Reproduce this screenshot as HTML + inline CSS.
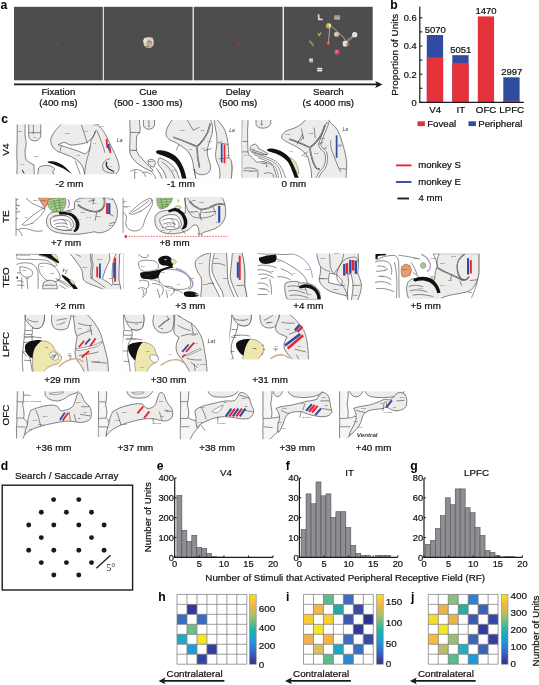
<!DOCTYPE html>
<html><head><meta charset="utf-8"><style>
html,body{margin:0;padding:0;background:#fff;}
svg{display:block;filter:blur(0.3px);}
</style></head><body>
<svg width="539" height="685" viewBox="0 0 539 685" font-family="'Liberation Sans', Arial, sans-serif">
<text x="0.6" y="8.9" font-size="12.2" font-weight="bold" fill="#000">a</text>
<rect x="14" y="6.8" width="88.8" height="73.5" fill="#4e4d4d"/>
<rect x="103.8" y="6.8" width="88.8" height="73.5" fill="#4e4d4d"/>
<rect x="193.8" y="6.8" width="88.8" height="73.5" fill="#4e4d4d"/>
<rect x="283.9" y="6.8" width="88.8" height="73.5" fill="#4e4d4d"/>
<circle cx="57.6" cy="43.4" r="1.0" fill="#e0242c"/>
<circle cx="238.2" cy="43.4" r="1.0" fill="#e0242c"/>
<path d="M143,41 L144.6,38 L148.5,36.9 L152.6,37.8 L153.9,41.5 L153.2,45.6 L150.5,47.9 L146.2,47.6 L144,45.2 Z" fill="#d6d0be"/>
<ellipse cx="149.4" cy="43.6" rx="2.6" ry="3.6" fill="#bfa198"/>
<ellipse cx="149.6" cy="44.8" rx="1.3" ry="1.5" fill="#d9a6a6"/>
<circle cx="148.2" cy="41.7" r="0.55" fill="#5a4038"/><circle cx="150.7" cy="41.7" r="0.55" fill="#5a4038"/>
<ellipse cx="147.6" cy="46.6" rx="2.2" ry="1.1" fill="#8d866e" opacity="0.8"/>
<ellipse cx="145.2" cy="40.5" rx="1.6" ry="2.4" fill="#e6e2d4"/>
<path d="M317.6,14.2 L319.4,14.2 L319.6,18.4 L322.9,18.8 L322.6,20.3 L318,20.2 Z" fill="#e2d4dc"/>
<rect x="334.1" y="15.8" width="6" height="3.9" rx="0.6" fill="#bda27a"/><rect x="334.6" y="15.1" width="5" height="1.6" fill="#7f9bb8"/>
<circle cx="328.6" cy="25.8" r="2.7" fill="#c8aa55"/><circle cx="329.6" cy="25" r="1.2" fill="#efe6c8"/>
<path d="M317.2,33 L319.3,36.5 L321.8,32.4 L320.6,32.4 L319.3,34.6 L318.4,33 Z" fill="#e0bd2c"/>
<ellipse cx="336.6" cy="34.4" rx="2.6" ry="2.4" fill="#d7b79f"/><ellipse cx="336" cy="33.6" rx="1.2" ry="0.9" fill="#f0e0d0"/>
<circle cx="354.7" cy="34.7" r="2.6" fill="#e9e9e9"/><circle cx="354.7" cy="34.7" r="0.7" fill="#e09a3a"/>
<path d="M308.6,41.2 L310.2,40.1 L314.2,44.8 L312.8,46.2 Z" fill="#7d9450"/><circle cx="313.2" cy="45.5" r="0.9" fill="#a0805a"/>
<rect x="342.8" y="40.8" width="4.8" height="5.8" rx="1.5" fill="#e8dfd6"/><rect x="346.4" y="42.5" width="2.4" height="3.4" rx="0.8" fill="#b08070"/>
<circle cx="337" cy="52" r="2.6" fill="#e04584"/><circle cx="336.3" cy="51.3" r="0.9" fill="#f4a0c0"/>
<rect x="309.2" y="58.7" width="3.8" height="3.6" fill="#c4c0ba"/><rect x="309.2" y="58.7" width="3.8" height="1.2" fill="#e0ddd8"/>
<rect x="317.2" y="67.8" width="5" height="3.8" rx="0.5" fill="#e9e2d6"/><rect x="317.2" y="69.2" width="5" height="0.7" fill="#a09080"/>
<polyline points="328.5,42.7 329.3,33 330,25.3" fill="none" stroke="#f2f2f2" stroke-width="0.55"/>
<polyline points="330.5,25.3 343.8,37.6 345.3,40.6" fill="none" stroke="#f2f2f2" stroke-width="0.55"/>
<polyline points="345.8,41.6 354,34.5" fill="none" stroke="#f2f2f2" stroke-width="0.5"/>
<polyline points="346.8,42.6 354.8,35.5" fill="none" stroke="#f2f2f2" stroke-width="0.5"/>
<rect x="326.9" y="42.1" width="3" height="3.1" fill="#e0282e"/><rect x="327.6" y="42.4" width="1" height="1.4" fill="#f4f4f4"/>
<line x1="14" y1="84.4" x2="377" y2="84.4" stroke="#1a1a1a" stroke-width="1.6"/>
<path d="M375.2,80.9 L382.5,84.4 L375.2,87.9 L376.8,84.4 Z" fill="#1a1a1a"/>
<text x="58.4" y="95.3" font-size="9.7" text-anchor="middle" stroke="#111" stroke-width="0.22" fill="#111">Fixation</text>
<text x="58.4" y="106.4" font-size="9.7" text-anchor="middle" stroke="#111" stroke-width="0.22" fill="#111">(400 ms)</text>
<text x="148.2" y="95.3" font-size="9.7" text-anchor="middle" stroke="#111" stroke-width="0.22" fill="#111">Cue</text>
<text x="148.2" y="106.4" font-size="9.7" text-anchor="middle" stroke="#111" stroke-width="0.22" fill="#111">(500 - 1300 ms)</text>
<text x="238.2" y="95.3" font-size="9.7" text-anchor="middle" stroke="#111" stroke-width="0.22" fill="#111">Delay</text>
<text x="238.2" y="106.4" font-size="9.7" text-anchor="middle" stroke="#111" stroke-width="0.22" fill="#111">(500 ms)</text>
<text x="328.3" y="95.3" font-size="9.7" text-anchor="middle" stroke="#111" stroke-width="0.22" fill="#111">Search</text>
<text x="328.3" y="106.4" font-size="9.7" text-anchor="middle" stroke="#111" stroke-width="0.22" fill="#111">(&#8804; 4000 ms)</text>
<text x="390.2" y="8.9" font-size="12.2" font-weight="bold" fill="#000">b</text>
<rect x="426.8" y="35.0" width="16.3" height="67.4" fill="#2f4ca0"/>
<rect x="426.8" y="57.3" width="16.3" height="45.1" fill="#e5323a"/>
<rect x="452.3" y="55.2" width="16.3" height="47.2" fill="#2f4ca0"/>
<rect x="452.3" y="62.9" width="16.3" height="39.5" fill="#e5323a"/>
<rect x="477.8" y="16.4" width="16.3" height="86.0" fill="#e5323a"/>
<rect x="503.3" y="77.3" width="16.3" height="25.1" fill="#2f4ca0"/>
<rect x="503.3" y="100.7" width="16.3" height="1.7" fill="#e5323a"/>
<line x1="419.8" y1="6.6" x2="419.8" y2="103.0" stroke="#1a1a1a" stroke-width="1.2"/>
<line x1="419.2" y1="102.4" x2="523.8" y2="102.4" stroke="#1a1a1a" stroke-width="1.2"/>
<line x1="419.8" y1="102.4" x2="422.40000000000003" y2="102.4" stroke="#1a1a1a" stroke-width="1.1"/>
<line x1="419.8" y1="88.3" x2="422.40000000000003" y2="88.3" stroke="#1a1a1a" stroke-width="1.1"/>
<line x1="419.8" y1="74.2" x2="422.40000000000003" y2="74.2" stroke="#1a1a1a" stroke-width="1.1"/>
<line x1="419.8" y1="60.1" x2="422.40000000000003" y2="60.1" stroke="#1a1a1a" stroke-width="1.1"/>
<line x1="419.8" y1="46.0" x2="422.40000000000003" y2="46.0" stroke="#1a1a1a" stroke-width="1.1"/>
<line x1="419.8" y1="31.9" x2="422.40000000000003" y2="31.9" stroke="#1a1a1a" stroke-width="1.1"/>
<line x1="419.8" y1="17.8" x2="422.40000000000003" y2="17.8" stroke="#1a1a1a" stroke-width="1.1"/>
<text x="416.6" y="105.7" font-size="9.3" text-anchor="end" stroke="#111" stroke-width="0.22" fill="#111">0</text>
<text x="416.6" y="77.5" font-size="9.3" text-anchor="end" stroke="#111" stroke-width="0.22" fill="#111">0.2</text>
<text x="416.6" y="49.3" font-size="9.3" text-anchor="end" stroke="#111" stroke-width="0.22" fill="#111">0.4</text>
<text x="416.6" y="21.1" font-size="9.3" text-anchor="end" stroke="#111" stroke-width="0.22" fill="#111">0.6</text>
<text transform="translate(398.4,54.8) rotate(-90)" font-size="9.9" text-anchor="middle" fill="#111" stroke="#111" stroke-width="0.22">Proportion of Units</text>
<text x="435.3" y="33.2" font-size="9.5" text-anchor="middle" stroke="#111" stroke-width="0.22" fill="#111">5070</text>
<text x="460.8" y="53.3" font-size="9.5" text-anchor="middle" stroke="#111" stroke-width="0.22" fill="#111">5051</text>
<text x="486.1" y="14.4" font-size="9.5" text-anchor="middle" stroke="#111" stroke-width="0.22" fill="#111">1470</text>
<text x="511.7" y="74.9" font-size="9.5" text-anchor="middle" stroke="#111" stroke-width="0.22" fill="#111">2997</text>
<text x="435.3" y="112.9" font-size="9.7" text-anchor="middle" stroke="#111" stroke-width="0.22" fill="#111">V4</text>
<text x="460.8" y="112.9" font-size="9.7" text-anchor="middle" stroke="#111" stroke-width="0.22" fill="#111">IT</text>
<text x="486.1" y="112.9" font-size="9.7" text-anchor="middle" stroke="#111" stroke-width="0.22" fill="#111">OFC</text>
<text x="511.7" y="112.9" font-size="9.7" text-anchor="middle" stroke="#111" stroke-width="0.22" fill="#111">LPFC</text>
<rect x="417.5" y="121.3" width="7.4" height="4.8" fill="#e5323a"/>
<text x="427.2" y="127.3" font-size="9.7" stroke="#111" stroke-width="0.22" fill="#111">Foveal</text>
<rect x="468.5" y="121.3" width="7.4" height="4.8" fill="#2f4ca0"/>
<text x="478.2" y="127.3" font-size="9.7" stroke="#111" stroke-width="0.22" fill="#111">Peripheral</text>
<text x="1.2" y="123.3" font-size="12.2" font-weight="bold" fill="#000">c</text>
<text transform="translate(8.9,149.6) rotate(-90)" font-size="9.9" text-anchor="middle" fill="#111" stroke="#111" stroke-width="0.22">V4</text>
<text transform="translate(8.9,216.8) rotate(-90)" font-size="9.9" text-anchor="middle" fill="#111" stroke="#111" stroke-width="0.22">TE</text>
<text transform="translate(8.9,277.4) rotate(-90)" font-size="9.9" text-anchor="middle" fill="#111" stroke="#111" stroke-width="0.22">TEO</text>
<text transform="translate(8.9,344.4) rotate(-90)" font-size="9.9" text-anchor="middle" fill="#111" stroke="#111" stroke-width="0.22">LPFC</text>
<text transform="translate(8.9,415.0) rotate(-90)" font-size="9.9" text-anchor="middle" fill="#111" stroke="#111" stroke-width="0.22">OFC</text>
<text x="69.5" y="187.0" font-size="9.8" text-anchor="middle" stroke="#111" stroke-width="0.22" fill="#111">-2 mm</text>
<text x="181.0" y="187.0" font-size="9.8" text-anchor="middle" stroke="#111" stroke-width="0.22" fill="#111">-1 mm</text>
<text x="293.8" y="187.0" font-size="9.8" text-anchor="middle" stroke="#111" stroke-width="0.22" fill="#111">0 mm</text>
<text x="66.0" y="245.5" font-size="9.8" text-anchor="middle" stroke="#111" stroke-width="0.22" fill="#111">+7 mm</text>
<text x="174.5" y="245.5" font-size="9.8" text-anchor="middle" stroke="#111" stroke-width="0.22" fill="#111">+8 mm</text>
<text x="69.8" y="308.8" font-size="9.8" text-anchor="middle" stroke="#111" stroke-width="0.22" fill="#111">+2 mm</text>
<text x="190.4" y="308.8" font-size="9.8" text-anchor="middle" stroke="#111" stroke-width="0.22" fill="#111">+3 mm</text>
<text x="308.3" y="308.5" font-size="9.8" text-anchor="middle" stroke="#111" stroke-width="0.22" fill="#111">+4 mm</text>
<text x="425.7" y="308.5" font-size="9.8" text-anchor="middle" stroke="#111" stroke-width="0.22" fill="#111">+5 mm</text>
<text x="62.0" y="382.9" font-size="9.8" text-anchor="middle" stroke="#111" stroke-width="0.22" fill="#111">+29 mm</text>
<text x="168.6" y="382.9" font-size="9.8" text-anchor="middle" stroke="#111" stroke-width="0.22" fill="#111">+30 mm</text>
<text x="270.0" y="382.9" font-size="9.8" text-anchor="middle" stroke="#111" stroke-width="0.22" fill="#111">+31 mm</text>
<text x="53.7" y="451.1" font-size="9.8" text-anchor="middle" stroke="#111" stroke-width="0.22" fill="#111">+36 mm</text>
<text x="135.4" y="451.1" font-size="9.8" text-anchor="middle" stroke="#111" stroke-width="0.22" fill="#111">+37 mm</text>
<text x="217.0" y="451.1" font-size="9.8" text-anchor="middle" stroke="#111" stroke-width="0.22" fill="#111">+38 mm</text>
<text x="297.3" y="451.1" font-size="9.8" text-anchor="middle" stroke="#111" stroke-width="0.22" fill="#111">+39 mm</text>
<text x="373.5" y="451.1" font-size="9.8" text-anchor="middle" stroke="#111" stroke-width="0.22" fill="#111">+40 mm</text>
<line x1="395.9" y1="165.4" x2="411.5" y2="165.4" stroke="#e8252e" stroke-width="1.9"/>
<line x1="395.9" y1="182" x2="411.5" y2="182" stroke="#2f4aa6" stroke-width="1.9"/>
<line x1="397.4" y1="198.5" x2="409" y2="198.5" stroke="#1e1e1e" stroke-width="1.9"/>
<text x="418.2" y="168.0" font-size="9.6" stroke="#111" stroke-width="0.22" fill="#111">monkey S</text>
<text x="418.2" y="184.5" font-size="9.6" stroke="#111" stroke-width="0.22" fill="#111">monkey E</text>
<text x="418.6" y="201.0" font-size="9.6" stroke="#111" stroke-width="0.22" fill="#111">4 mm</text>
<g transform="translate(14,118) scale(0.20408)" stroke-linejoin="round"><clipPath id="sc1"><rect x="10" y="32" width="520" height="244"/></clipPath><g clip-path="url(#sc1)"><path d="M15,20 L390,20 C420,40 440,60 455,95 C470,125 490,165 505,200 C517,230 520,255 505,268 L490,290 L15,290 C12,250 18,230 14,200 C12,150 18,100 15,20 Z" fill="#edeceb" stroke="#333333" stroke-width="0.6" vector-effect="non-scaling-stroke"/><path d="M54,20 L240,20 C215,50 185,75 180,105 C178,130 195,160 230,170 C265,182 300,195 322,218 C340,238 345,260 347,290 L200,290 L190,262 L200,250 C190,238 175,232 160,232 C140,232 125,238 120,245 L115,290 L100,290 L98,230 C85,224 70,215 60,205 C52,190 56,170 54,157 C60,140 62,120 56,100 C52,80 56,50 54,20 Z" fill="#fff" stroke="#333333" stroke-width="0.6" vector-effect="non-scaling-stroke"/><path d="M72,20 L131,20 L131,85 C131,100 118,112 100,112 C82,112 72,100 72,85 Z" fill="#edeceb" stroke="#333333" stroke-width="0.6" vector-effect="non-scaling-stroke"/><path d="M95,32 L95,80 M72,72 L131,72" fill="none" stroke="#333333" stroke-width="0.55" vector-effect="non-scaling-stroke"/><path d="M216,131 C230,124 240,119 250,120 C265,128 278,134 287,133 C300,131 315,129 323,128 C335,126 345,124 355,120 C368,112 378,104 382,99 C390,88 396,75 400,63 C395,78 390,88 387,95 C380,102 378,106 378,108 C376,120 375,132 373,140 C370,150 367,158 364,163 C358,170 352,174 346,176 C330,168 310,160 287,153 C265,146 245,140 232,135 C225,133 220,132 216,131 Z" fill="#fff" stroke="#333333" stroke-width="0.6" vector-effect="non-scaling-stroke"/><path d="M330,33 L360,125 M232,135 L225,165 M373,140 C372,170 350,200 345,290 M405,58 C420,95 440,140 445,170 M470,200 C440,205 425,230 440,258 C455,270 480,272 495,268 M390,35 L420,30 M300,210 L330,290" fill="none" stroke="#333333" stroke-width="0.55" vector-effect="non-scaling-stroke"/><path d="M455,215 C445,235 460,255 490,262" fill="none" stroke="#222" stroke-width="1.2" vector-effect="non-scaling-stroke"/><path d="M168,213 C190,208 215,215 238,230 C255,242 270,258 283,274 C270,266 255,256 242,248 C220,236 195,226 172,220 C164,218 163,214 168,213 Z" fill="#111" stroke="none"/><path d="M40,255 L50,272" fill="none" stroke="#222" stroke-width="1.0" vector-effect="non-scaling-stroke"/></g></g><line x1="106.6" y1="139" x2="107.3" y2="148" stroke="#e8252e" stroke-width="1.8"/><line x1="108.6" y1="144" x2="109.3" y2="150.5" stroke="#2f4aa6" stroke-width="1.8"/><line x1="109.8" y1="147" x2="110.4" y2="153.2" stroke="#e8252e" stroke-width="1.8"/><text x="117" y="141.8" font-size="5" font-style="italic" fill="#333">La</text>
<g transform="translate(126,118) scale(0.20408)" stroke-linejoin="round"><clipPath id="sc2"><rect x="14" y="10" width="516" height="287"/></clipPath><g clip-path="url(#sc2)"><path d="M15,-5 L520,-5 L520,310 L15,310 C12,250 18,200 14,150 C12,100 18,50 15,-5 Z" fill="#edeceb" stroke="#333333" stroke-width="0.6" vector-effect="non-scaling-stroke"/><path d="M60,-5 L235,-5 C215,25 200,45 196,70 C195,90 205,105 225,112 C255,125 285,145 305,165 C322,185 328,215 332,245 C335,270 345,300 345,310 L180,310 C175,280 160,255 140,240 C130,232 128,225 130,212 C120,222 108,222 100,205 C92,180 80,150 74,110 C68,80 70,40 60,-5 Z" fill="#fff" stroke="#333333" stroke-width="0.6" vector-effect="non-scaling-stroke"/><path d="M405,-5 C425,20 428,50 420,85 C410,115 398,140 398,170 C400,200 415,220 415,245 C412,268 395,278 370,278 C350,278 338,268 334,250 L345,310 L455,310 C462,290 462,260 455,235 C442,215 436,190 440,165 C445,135 450,100 440,60 C436,40 433,20 430,-5 Z" fill="#fff" stroke="#333333" stroke-width="0.6" vector-effect="non-scaling-stroke"/><path d="M430,-5 C455,15 475,35 488,70 C498,100 503,140 503,170 C503,185 500,190 505,195 C518,205 522,230 520,260 L515,310 L560,310 L560,-5 Z" fill="#fff" stroke="#333333" stroke-width="0.6" vector-effect="non-scaling-stroke"/><path d="M85,-5 L140,-5 L140,30 C140,48 125,55 112,55 C95,55 85,45 85,30 Z" fill="#edeceb" stroke="#333333" stroke-width="0.6" vector-effect="non-scaling-stroke"/><path d="M165,195 C195,205 225,225 245,255 C255,275 258,290 262,310 L200,310 C195,280 185,255 168,240 C155,228 150,210 165,195 Z" fill="#edeceb" stroke="#333333" stroke-width="0.6" vector-effect="non-scaling-stroke"/><path d="M15,75 L68,75 M15,150 L74,150 M112,10 L112,40 M175,215 C200,230 225,255 240,300 M20,225 C60,215 90,225 110,240 M20,260 L140,262 M70,240 L80,300 M300,10 L330,60 L360,45 M260,130 L245,160 M380,160 L420,150 M450,120 L500,130 M455,200 L505,195" fill="none" stroke="#333333" stroke-width="0.55" vector-effect="non-scaling-stroke"/><path d="M235,95 C265,105 300,120 348,140 M348,140 C365,125 385,105 400,70 C405,55 410,40 412,30 M348,140 C348,170 352,210 360,240" fill="none" stroke="#333" stroke-width="1.5" stroke-linecap="round" vector-effect="non-scaling-stroke"/><path d="M235,95 C265,105 300,120 348,140 M348,140 C365,125 385,105 400,70 C405,55 410,40 412,30 M348,140 C348,170 352,210 360,240" fill="none" stroke="#fff" stroke-width="0.5" stroke-linecap="round" vector-effect="non-scaling-stroke"/><path d="M150,160 C170,155 200,160 230,178 C265,200 285,240 297,300 L275,300 C268,260 255,230 235,212 C210,195 185,185 160,178 C148,175 144,165 150,160 Z" fill="#111" stroke="none"/></g></g><g transform="translate(128,118) scale(0.11132)" stroke-linejoin="round"><clipPath id="sc3"><rect x="0" y="18" width="540" height="530"/></clipPath><g clip-path="url(#sc3)"><path d="M0,-20 L101,-20 L126,200 L172,372 L224,386 L244,438 L305,570 L0,570 Z" fill="#fff"/><path d="M15,-10 L100,-10 C105,40 110,100 108,130 C95,140 82,150 78,170 C75,210 74,250 76,280 C80,310 95,335 120,360 C145,385 165,410 185,430 C200,445 215,455 225,470 L210,480 C190,470 170,460 150,450 C110,430 70,400 40,360 C22,335 14,310 15,290 C16,240 18,180 20,130 C18,90 16,40 15,-10 Z" fill="#edeceb" stroke="#333333" stroke-width="0.6" vector-effect="non-scaling-stroke"/><path d="M18,130 L108,130 M18,290 L78,290 M20,480 C45,462 80,458 110,470 C135,480 150,500 160,530 M60,470 L60,570 M130,490 C160,480 190,490 210,510 M210,480 C230,500 250,530 255,570" fill="none" stroke="#333333" stroke-width="0.55" vector-effect="non-scaling-stroke"/><path d="M180,382 C195,368 222,368 240,385 C248,400 246,420 232,440 C215,442 198,430 188,415 C180,405 176,392 180,382 Z" fill="#edeceb" stroke="#333333" stroke-width="0.6" vector-effect="non-scaling-stroke"/></g></g><line x1="221.7" y1="143.5" x2="221.7" y2="162.5" stroke="#2f4aa6" stroke-width="1.7"/><line x1="224.5" y1="144.5" x2="224.5" y2="163.3" stroke="#e8252e" stroke-width="1.7"/><text x="229.3" y="132.3" font-size="5" font-style="italic" fill="#333">La</text>
<g transform="translate(238,118) scale(0.21151)" stroke-linejoin="round"><clipPath id="sc4"><rect x="17" y="10" width="513" height="273"/></clipPath><g clip-path="url(#sc4)"><path d="M18,-5 L520,-5 L520,300 L18,300 C16,250 20,200 17,150 C15,100 20,50 18,-5 Z" fill="#edeceb" stroke="#333333" stroke-width="0.6" vector-effect="non-scaling-stroke"/><path d="M45,-5 L330,-5 C305,30 280,45 245,55 C215,65 205,80 207,95 C212,105 235,115 265,130 C295,145 315,160 330,185 C336,205 340,225 345,240 L350,300 L185,300 L183,283 C178,260 172,240 167,230 C160,220 150,216 146,215 C135,210 125,206 115,206 C105,207 95,210 88,209 C75,195 60,180 49,170 C45,150 46,90 45,60 C46,40 50,20 45,-5 Z" fill="#fff" stroke="#333333" stroke-width="0.6" vector-effect="non-scaling-stroke"/><path d="M85,-5 L155,-5 L155,25 C150,42 135,48 118,48 C100,48 85,40 85,25 Z" fill="#edeceb" stroke="#333333" stroke-width="0.6" vector-effect="non-scaling-stroke"/><path d="M112,10 L112,35 M300,50 L310,100 M360,45 L365,95 M330,160 L300,180 M390,150 L420,140 M20,110 L45,112 M20,160 L48,160" fill="none" stroke="#333333" stroke-width="0.55" vector-effect="non-scaling-stroke"/><path d="M245,100 C275,108 310,125 340,140 M340,140 C360,125 380,105 395,75 C402,60 407,45 410,35 M340,140 C343,170 350,200 365,230 C370,238 378,242 385,240" fill="none" stroke="#333" stroke-width="1.5" stroke-linecap="round" vector-effect="non-scaling-stroke"/><path d="M245,100 C275,108 310,125 340,140 M340,140 C360,125 380,105 395,75 C402,60 407,45 410,35 M340,140 C343,170 350,200 365,230 C370,238 378,242 385,240" fill="none" stroke="#fff" stroke-width="0.5" stroke-linecap="round" vector-effect="non-scaling-stroke"/></g></g><g transform="translate(240,130) scale(0.11132)" stroke-linejoin="round"><clipPath id="sc5"><rect x="0" y="0" width="540" height="430"/></clipPath><g clip-path="url(#sc5)"><path d="M90,165 C95,140 115,125 140,128 C155,135 160,150 165,165 C200,185 235,200 252,215 C235,228 200,225 170,212 C140,202 105,196 92,185 Z" fill="#edeceb" stroke="#333333" stroke-width="0.6" vector-effect="non-scaling-stroke"/><path d="M100,200 C170,225 260,240 320,280 C360,310 390,360 410,440 M125,222 C190,245 265,262 318,300 C350,330 368,380 378,440 M160,250 C220,268 280,290 312,325 C335,355 345,400 348,440 M110,180 C150,190 200,205 240,225" fill="none" stroke="#333333" stroke-width="0.55" vector-effect="non-scaling-stroke"/><path d="M35,345 C70,335 130,340 158,360 C165,390 160,420 155,440 M30,365 L150,370 M215,392 C240,378 280,382 298,402 L305,440 M190,300 L235,300 L240,330" fill="none" stroke="#333333" stroke-width="0.55" vector-effect="non-scaling-stroke"/><path d="M440,250 C462,250 490,270 505,300 C520,335 530,370 528,395 C515,390 500,365 488,335 C475,305 460,280 440,250 Z" fill="#efe8ae" stroke="#333333" stroke-width="0.4" vector-effect="non-scaling-stroke"/><path d="M245,175 C260,165 290,163 330,175 C380,192 420,215 445,250 C470,290 500,360 532,440 L495,440 C470,370 450,310 425,280 C400,250 360,225 320,210 C290,200 260,195 250,188 C242,183 240,178 245,175 Z" fill="#111" stroke="none"/></g></g><g transform="translate(290,118) scale(0.11502)" stroke-linejoin="round"><clipPath id="sc6"><rect x="0" y="16" width="539" height="504"/></clipPath><g clip-path="url(#sc6)"><path d="M320,-20 C345,40 360,50 380,65 C410,90 432,140 450,200 C465,250 485,310 492,380 C495,430 490,480 482,560 L620,560 L620,-20 Z" fill="#fff" stroke="#333333" stroke-width="0.6" vector-effect="non-scaling-stroke"/><path d="M318,40 C300,100 270,160 250,220 C245,250 270,275 300,300 C315,340 310,390 290,430 C270,455 240,470 215,560 L238,560 C255,485 285,460 305,440 C328,400 330,340 318,295 C290,268 265,248 268,222 C285,170 312,108 336,50 Z" fill="#fff" stroke="#333333" stroke-width="0.6" vector-effect="non-scaling-stroke"/><path d="M355,195 C350,230 355,265 370,300 C390,350 410,410 440,470 M415,245 L450,240 M430,440 L490,445 M330,40 L345,30 M245,230 L290,210 M60,230 L110,140 M90,200 L120,160" fill="none" stroke="#333333" stroke-width="0.55" vector-effect="non-scaling-stroke"/></g></g><line x1="336.6" y1="135.3" x2="336.6" y2="157.8" stroke="#2f4aa6" stroke-width="1.7"/><text x="342.5" y="130.5" font-size="5" font-style="italic" fill="#333">La</text>
<g transform="translate(14,192) scale(0.20408)" stroke-linejoin="round"><clipPath id="sc7"><rect x="5" y="28" width="295" height="188"/></clipPath><g clip-path="url(#sc7)"><path d="M10,28 L10,215 M10,40 L22,35 M10,60 L25,70 M10,80 L20,85 M10,100 L30,95 M10,130 L20,130 M10,180 C30,190 35,200 40,215" fill="none" stroke="#333333" stroke-width="0.55" vector-effect="non-scaling-stroke"/><path d="M118,28 L188,28 L150,78 Z" fill="#ec9b6e" stroke="#333333" stroke-width="0.4" vector-effect="non-scaling-stroke"/><path d="M60,28 C70,45 85,55 110,65 C125,72 138,78 150,82" fill="none" stroke="#333333" stroke-width="0.55" vector-effect="non-scaling-stroke"/><path d="M40,160 C60,140 90,115 130,88 C140,80 148,78 152,82 C145,102 125,125 100,145 C80,160 55,167 40,160 Z" fill="none" stroke="#333333" stroke-width="0.55" vector-effect="non-scaling-stroke"/><path d="M20,185 C40,175 60,178 80,185 C100,192 120,195 140,190" fill="none" stroke="#333333" stroke-width="0.55" vector-effect="non-scaling-stroke"/><path d="M166,40 C185,30 220,26 252,30 C258,48 255,70 242,88 C228,100 205,103 190,97 C177,88 168,75 165,60 Z" fill="#a9cf8c" stroke="#333333" stroke-width="0.4" vector-effect="non-scaling-stroke"/><path d="M175,50 C195,45 215,40 245,38 M172,62 C195,55 220,52 250,50 M178,75 C200,68 225,65 248,62 M188,88 C205,80 225,78 242,76 M195,40 C200,60 205,80 210,98 M220,32 C222,55 225,75 228,95" fill="none" stroke="#557e45" stroke-width="0.6" vector-effect="non-scaling-stroke"/><path d="M262,35 C274,45 276,64 262,80" fill="none" stroke="#b88dc8" stroke-width="1.3" vector-effect="non-scaling-stroke"/></g></g><g transform="translate(44,194) scale(0.14842)" stroke-linejoin="round"><clipPath id="sc8"><rect x="0" y="25" width="530" height="255"/></clipPath><g clip-path="url(#sc8)"><path d="M205,55 C215,35 240,27 285,26 L320,26 C322,35 328,42 335,35 L340,20 L452,20 C480,48 495,90 495,130 C493,175 475,210 445,235 C420,252 395,262 370,262 C355,262 345,252 330,256 C310,262 290,262 260,268 C220,275 150,272 100,262 C60,255 25,235 18,200 C14,170 20,145 45,128 C70,118 90,118 110,120 C140,118 170,112 205,100 Z" fill="#edeceb" stroke="#333333" stroke-width="0.6" vector-effect="non-scaling-stroke"/><path d="M300,50 L345,40 M330,70 L335,40 M355,120 L345,180 M430,130 L470,150 M440,200 L480,190 M60,150 C90,140 130,140 150,150 M70,180 C100,170 140,170 165,185 M60,205 C90,215 130,225 175,230 M80,230 C100,240 150,248 190,245 M120,160 C140,165 160,180 170,200" fill="none" stroke="#333333" stroke-width="0.55" vector-effect="non-scaling-stroke"/><path d="M232,75 C260,100 300,115 345,120 C375,120 395,105 405,80 C410,60 408,40 405,25" fill="none" stroke="#333" stroke-width="1.5" stroke-linecap="round" vector-effect="non-scaling-stroke"/><path d="M232,75 C260,100 300,115 345,120 C375,120 395,105 405,80 C410,60 408,40 405,25" fill="none" stroke="#fff" stroke-width="0.5" stroke-linecap="round" vector-effect="non-scaling-stroke"/><path d="M45,165 C70,148 110,140 150,148 C178,158 196,180 200,208 C198,228 185,240 160,243 C120,246 80,238 58,222 C45,210 40,185 45,165 Z" fill="#fff" stroke="#333333" stroke-width="0.6" vector-effect="non-scaling-stroke"/><path d="M60,185 C90,170 130,168 165,180 C180,190 185,205 180,220 M70,205 C100,192 135,192 160,205 M80,222 C110,215 140,215 165,228 M120,170 C140,175 150,190 150,205" fill="none" stroke="#333333" stroke-width="0.55" vector-effect="non-scaling-stroke"/><path d="M100,122 C130,118 170,122 190,131 C205,140 215,148 220,157 C232,175 240,190 239,205 C238,220 236,232 225,245 C218,252 212,256 205,257 L198,248 C205,240 212,232 213,220 C216,205 214,190 205,176 C195,160 185,150 175,146 C160,140 130,138 104,139 Z" fill="#111" stroke="none"/><path d="M162,118 C170,112 180,114 183,120 C182,127 170,128 162,124 Z" fill="#efe8ae" stroke="#333333" stroke-width="0.4" vector-effect="non-scaling-stroke"/><path d="M390,20 L395,28 L420,25 L440,30" fill="none" stroke="#333333" stroke-width="0.5" vector-effect="non-scaling-stroke"/></g></g><line x1="107.1" y1="203.2" x2="107.1" y2="214" stroke="#e8252e" stroke-width="2.2"/><line x1="109.3" y1="203.2" x2="109.3" y2="214" stroke="#2f4aa6" stroke-width="2.2"/>
<g transform="translate(120,192) scale(0.20408)" stroke-linejoin="round"><clipPath id="sc9"><rect x="5" y="28" width="525" height="188"/></clipPath><g clip-path="url(#sc9)"><path d="M15,28 L15,200 M15,50 L30,45 M15,70 L35,75 M15,100 C30,110 35,125 30,140 C25,160 30,180 60,190 C90,195 110,180 115,160 C120,130 140,100 155,70 C165,50 160,35 150,30" fill="none" stroke="#333333" stroke-width="0.55" vector-effect="non-scaling-stroke"/><path d="M45,105 C70,80 100,50 140,32 C155,30 158,40 150,55 C130,80 95,100 60,110 Z M60,100 C90,85 120,60 145,40" fill="none" stroke="#333333" stroke-width="0.55" vector-effect="non-scaling-stroke"/><path d="M172,120 C180,100 205,92 232,90 C270,85 300,95 320,105 L320,26 L500,26 C515,50 522,90 515,125 C508,150 490,168 465,180 C440,190 415,195 405,200 C398,205 400,212 402,220 L385,220 C390,200 388,175 375,162 C360,158 350,172 335,185 C310,200 280,205 245,205 C210,203 185,190 175,165 C170,150 170,135 172,120 Z" fill="#edeceb" stroke="#333333" stroke-width="0.6" vector-effect="non-scaling-stroke"/><path d="M343,48 C355,62 365,72 376,75 C390,82 398,86 403,86 C415,84 425,82 436,78 C450,70 470,60 490,59 C500,59 508,60 512,62" fill="none" stroke="#333" stroke-width="1.5" stroke-linecap="round" vector-effect="non-scaling-stroke"/><path d="M343,48 C355,62 365,72 376,75 C390,82 398,86 403,86 C415,84 425,82 436,78 C450,70 470,60 490,59 C500,59 508,60 512,62" fill="none" stroke="#fff" stroke-width="0.5" stroke-linecap="round" vector-effect="non-scaling-stroke"/><path d="M316,26 C316,45 320,60 327,75 C333,92 340,105 354,119 C365,125 380,128 409,127 C425,126 440,122 463,111 M398,86 L392,125 M455,70 L470,110 M330,26 C335,40 340,45 345,48" fill="none" stroke="#333333" stroke-width="0.55" vector-effect="non-scaling-stroke"/><path d="M385,100 C390,115 395,125 400,140 M420,100 L470,95 M345,100 L380,95 M200,130 C220,120 250,118 280,130 M195,150 C215,140 250,140 275,155 M205,175 C230,168 260,170 280,180 M240,200 L250,190 M300,180 L320,205" fill="none" stroke="#333333" stroke-width="0.55" vector-effect="non-scaling-stroke"/><path d="M180,28 L258,28 C255,45 248,58 232,72 C220,80 205,85 195,82 C185,72 180,55 180,42 Z" fill="#a9cf8c" stroke="#333333" stroke-width="0.4" vector-effect="non-scaling-stroke"/><path d="M185,40 C205,38 230,35 255,35 M185,52 C205,50 230,48 250,47 M188,65 C205,62 225,60 240,60 M195,75 C210,72 225,70 235,68 M200,30 C205,50 208,65 210,82 M225,30 C228,50 230,62 232,72" fill="none" stroke="#557e45" stroke-width="0.6" vector-effect="non-scaling-stroke"/><path d="M268,74 C278,66 295,66 300,75 C298,84 280,86 268,80 Z" fill="#efe8ae" stroke="#333333" stroke-width="0.4" vector-effect="non-scaling-stroke"/><path d="M283,38 L289,38 L288,50 L284,50 Z" fill="#efe8ae" stroke="#333333" stroke-width="0.2" vector-effect="non-scaling-stroke"/><path d="M195,132 C212,114 245,106 272,113 C292,123 302,145 300,166 C287,182 255,188 228,182 C206,174 193,152 195,132 Z" fill="#fff" stroke="#333333" stroke-width="0.6" vector-effect="non-scaling-stroke"/><path d="M205,140 C225,128 255,126 280,138 C292,150 292,165 285,175 M210,158 C230,148 258,148 275,160 M220,172 C240,166 260,168 272,176 M250,130 C262,140 268,155 265,170" fill="none" stroke="#333333" stroke-width="0.55" vector-effect="non-scaling-stroke"/><path d="M235,92 C245,84 260,78 272,78 C285,80 292,84 300,92 C312,102 318,110 321,116 C327,128 330,138 330,146 C330,158 328,168 324,174 C320,178 315,181 310,182 L300,179 C304,176 306,173 308,171 C311,164 313,158 313,152 C312,144 311,136 308,130 C304,120 300,113 294,108 C288,102 280,96 272,94 C262,94 250,96 240,100 Z" fill="#111" stroke="none"/></g></g><line x1="219.2" y1="205.9" x2="219.2" y2="222.2" stroke="#2f4aa6" stroke-width="2.2"/><line x1="125.5" y1="236.4" x2="227.6" y2="236.4" stroke="#e0323a" stroke-width="0.7" stroke-dasharray="1.6,1.2"/><ellipse cx="125.8" cy="236.4" rx="1.3" ry="1.7" fill="#e0323a"/>
<g transform="translate(14,250) scale(0.12987)" stroke-linejoin="round"><clipPath id="sc10"><rect x="14" y="26" width="526" height="279"/></clipPath><g clip-path="url(#sc10)"><path d="M15,32 L190,32 M15,32 C12,50 15,65 30,70 C90,74 180,72 235,76 C265,82 285,100 300,120 C315,128 332,122 330,112 C322,98 300,82 275,68 C250,55 225,48 190,40" fill="none" stroke="#333333" stroke-width="0.55" vector-effect="non-scaling-stroke"/><path d="M190,110 C210,95 255,100 290,115 C325,135 350,170 355,210 C352,232 335,245 300,245 C265,244 235,225 215,200 C195,175 185,145 190,110 Z" fill="none" stroke="#333333" stroke-width="0.55" vector-effect="non-scaling-stroke"/><path d="M20,112 C45,98 90,95 125,102 C160,112 180,140 185,180 L186,300 M45,130 C80,128 120,140 142,165 C150,190 135,210 100,210 C70,208 50,190 45,160 Z M22,175 L50,178 M22,240 C40,232 60,236 75,250 M20,270 L80,272 M60,210 L60,300 M100,215 L105,300" fill="none" stroke="#333333" stroke-width="0.55" vector-effect="non-scaling-stroke"/><path d="M20,205 L30,205 L30,222 L20,222 Z" fill="#111" stroke="none"/><path d="M228,250 C245,232 285,228 312,240 C330,252 334,275 332,300 L222,300 C220,282 222,262 228,250 Z" fill="#edeceb" stroke="#333333" stroke-width="0.6" vector-effect="non-scaling-stroke"/><path d="M330,232 C360,245 390,262 420,290 M320,220 C355,230 395,250 440,285 M350,270 L400,300 M240,270 L320,272" fill="none" stroke="#333333" stroke-width="0.55" vector-effect="non-scaling-stroke"/><path d="M190,30 L292,30 C305,45 325,68 345,88 C350,98 345,104 336,100 C310,86 280,66 250,52 C225,44 205,38 190,34 Z" fill="#111" stroke="none"/><path d="M285,30 L318,30 C328,45 338,62 340,78 C325,72 310,60 298,48 C292,42 288,36 285,30 Z" fill="#efe8ae" stroke="#333333" stroke-width="0.3" vector-effect="non-scaling-stroke"/><path d="M368,188 C390,196 420,215 445,240 C465,260 480,280 492,300 L458,300 C445,280 428,262 410,245 C392,228 375,212 368,198 Z" fill="#111" stroke="none"/><path d="M428,228 C445,228 462,242 468,262 C462,270 450,265 440,252 C433,243 428,236 428,228 Z" fill="#efe8ae" stroke="#333333" stroke-width="0.3" vector-effect="non-scaling-stroke"/><path d="M380,170 L385,140 M395,185 L410,150" fill="none" stroke="#333333" stroke-width="0.55" vector-effect="non-scaling-stroke"/></g></g><g transform="translate(64,250) scale(0.11132)" stroke-linejoin="round"><clipPath id="sc11"><rect x="0" y="33" width="539" height="319"/></clipPath><g clip-path="url(#sc11)"><path d="M45,20 L520,20 C515,100 505,200 510,300 L512,370 L370,370 C360,350 320,340 270,320 C220,300 185,290 172,260 C165,230 168,200 160,180 C140,140 100,90 45,20 Z" fill="#edeceb" stroke="#333333" stroke-width="0.6" vector-effect="non-scaling-stroke"/><path d="M520,20 L500,40 C500,100 493,200 495,270 C500,290 510,300 512,370" fill="none" stroke="#333333" stroke-width="0.5" vector-effect="non-scaling-stroke"/><path d="M235,30 L255,30 C250,60 245,90 262,130 C255,170 250,210 255,250 L245,255 C238,210 240,160 250,130 C235,110 245,75 235,30 Z" fill="#fff" stroke="#333333" stroke-width="0.6" vector-effect="non-scaling-stroke"/><path d="M405,30 L470,30 C450,70 440,100 435,150 C430,220 432,270 440,310 L430,320 C400,290 375,275 345,262 C355,220 380,150 410,95 C415,75 410,50 405,30 Z" fill="#fff" stroke="#333333" stroke-width="0.6" vector-effect="non-scaling-stroke"/><path d="M500,30 L540,30 L540,380 L510,380 C510,330 500,300 495,270 C493,200 500,100 500,30 Z" fill="#fff" stroke="#333333" stroke-width="0.5" vector-effect="non-scaling-stroke"/><path d="M110,40 C125,45 140,55 150,60 M240,250 C270,270 320,300 370,340 M445,310 L500,310" fill="none" stroke="#333333" stroke-width="0.55" vector-effect="non-scaling-stroke"/></g></g><line x1="97.2" y1="266.7" x2="97.2" y2="277.3" stroke="#e8252e" stroke-width="1.8"/><line x1="99.9" y1="263.4" x2="99.9" y2="278.4" stroke="#2f4aa6" stroke-width="1.8"/><line x1="115.1" y1="257.8" x2="115.1" y2="281.7" stroke="#e8252e" stroke-width="2.0"/><line x1="114.2" y1="262.8" x2="114.2" y2="277.8" stroke="#2f4aa6" stroke-width="2.0"/>
<g transform="translate(134,250) scale(0.12987)" stroke-linejoin="round"><clipPath id="sc12"><rect x="25" y="26" width="515" height="346"/></clipPath><g clip-path="url(#sc12)"><path d="M35,30 C40,45 60,58 90,60 C110,58 112,40 108,30 M35,95 C55,72 110,78 160,85 C185,98 192,120 188,140 C170,158 120,165 80,165 C50,160 35,140 35,95 Z" fill="none" stroke="#333333" stroke-width="0.55" vector-effect="non-scaling-stroke"/><path d="M200,160 C240,140 320,142 390,180 C430,205 445,245 432,280 C415,300 380,308 320,302 C260,296 220,275 198,245 C185,222 186,185 200,160 Z" fill="none" stroke="#333333" stroke-width="0.55" vector-effect="non-scaling-stroke"/><path d="M40,240 C60,228 90,230 110,245 C120,265 110,290 90,300 M30,300 C50,285 80,288 95,305 C100,330 85,355 60,365 M120,230 C150,225 180,235 200,255 M140,260 C170,255 200,265 220,285 C230,305 225,330 210,350 M240,280 C270,275 300,285 310,300 C315,320 300,340 280,350 M300,310 C330,305 360,315 375,335 M180,300 L200,370 M250,320 L260,370 M60,300 C75,310 80,330 70,350" fill="none" stroke="#333333" stroke-width="0.55" vector-effect="non-scaling-stroke"/><path d="M320,140 C370,152 420,190 448,240 C460,268 450,292 420,305" fill="none" stroke="#b88dc8" stroke-width="1.5" vector-effect="non-scaling-stroke"/><path d="M186,72 C195,52 225,40 255,45 C285,52 302,78 302,105 C300,122 288,132 270,128 C255,120 240,118 225,120 C205,118 188,100 186,72 Z" fill="#111" stroke="none"/><path d="M48,175 C80,168 130,165 160,160 C200,150 240,132 275,125 C300,124 310,130 300,136 C270,140 240,148 215,162 C198,175 190,200 185,215 C160,226 110,228 70,222 C52,215 44,195 48,175 Z" fill="#111" stroke="none"/><path d="M282,72 C298,68 318,75 328,90 C322,105 305,110 292,104 C286,95 284,82 282,72 Z" fill="#efe8ae" stroke="#333333" stroke-width="0.3" vector-effect="non-scaling-stroke"/><path d="M232,72 C240,68 250,70 252,76 C246,82 236,80 232,72 Z" fill="#fff" stroke="#333333" stroke-width="0.2" vector-effect="non-scaling-stroke"/><path d="M385,325 C410,316 445,316 475,328 C492,336 500,345 496,356 C470,364 430,364 395,358 C385,350 380,335 385,325 Z" fill="#111" stroke="none"/><path d="M468,335 C480,332 495,338 500,350 C490,352 475,348 468,335 Z" fill="#efe8ae" stroke="#333333" stroke-width="0.3" vector-effect="non-scaling-stroke"/></g></g><g transform="translate(134,250) scale(0.22263)" stroke-linejoin="round"><clipPath id="sc13"><rect x="14" y="14" width="506" height="197"/></clipPath><g clip-path="url(#sc13)"><path d="M290,35 C300,25 320,18 345,12 L488,12 C495,50 502,100 498,150 C497,170 505,180 507,215 L300,215 C300,180 310,150 300,120 C285,100 272,75 275,55 C278,45 283,40 290,35 Z" fill="#edeceb" stroke="#333333" stroke-width="0.6" vector-effect="non-scaling-stroke"/><path d="M345,10 L362,10 C356,40 346,70 352,100 C362,130 382,160 397,188 L402,215 L386,215 C374,185 352,150 342,120 C334,90 340,55 345,10 Z" fill="#fff" stroke="#333333" stroke-width="0.6" vector-effect="non-scaling-stroke"/><path d="M415,10 L442,10 C440,50 434,90 432,120 C437,150 452,178 468,215 L452,215 C441,188 426,162 421,132 C418,92 420,50 415,10 Z" fill="#fff" stroke="#333333" stroke-width="0.6" vector-effect="non-scaling-stroke"/><path d="M485,10 L540,10 L540,215 L507,215 C505,180 497,170 498,150 C502,100 495,50 485,10 Z" fill="#fff" stroke="#333333" stroke-width="0.6" vector-effect="non-scaling-stroke"/><path d="M355,60 C375,58 395,62 410,70 M330,150 L360,150 M460,160 L495,158" fill="none" stroke="#333333" stroke-width="0.55" vector-effect="non-scaling-stroke"/></g></g><line x1="239.7" y1="255.6" x2="239.7" y2="280" stroke="#e8252e" stroke-width="2.0"/><line x1="237.8" y1="262.2" x2="237.8" y2="277.8" stroke="#2f4aa6" stroke-width="2.0"/>
<g transform="translate(254,250) scale(0.22263)" stroke-linejoin="round"><clipPath id="sc14"><rect x="14" y="15" width="286" height="207"/></clipPath><g clip-path="url(#sc14)"><path d="M15,15 C40,20 70,18 100,18 C130,22 155,20 175,18 M15,70 C40,65 70,68 100,80 M15,90 C35,85 60,92 80,105 M20,110 C45,105 70,112 90,125 M30,130 L60,125 M15,150 C35,145 55,150 65,165 M20,175 C40,170 60,175 70,190 M15,200 L60,200 M70,130 C75,150 80,170 78,200 M100,40 C120,45 150,60 180,80 C210,100 235,120 240,150 M120,85 C140,90 160,100 175,115 M105,120 C130,118 150,125 165,135" fill="none" stroke="#333333" stroke-width="0.55" vector-effect="non-scaling-stroke"/><path d="M175,18 C208,26 238,48 252,80 C260,100 262,115 262,125" fill="none" stroke="#b88dc8" stroke-width="1.0" vector-effect="non-scaling-stroke"/><path d="M22,35 C40,28 70,22 98,20 C104,30 102,42 96,52 C80,60 60,64 40,62 C28,58 20,48 22,35 Z" fill="#111" stroke="none"/><path d="M140,150 C160,138 190,138 210,148 C250,145 280,160 295,190 L300,222 L150,222 C140,205 135,175 140,150 Z" fill="#edeceb" stroke="#333333" stroke-width="0.6" vector-effect="non-scaling-stroke"/><path d="M150,165 C170,158 195,160 215,170 M155,185 C175,178 200,182 230,195 M160,205 C185,198 215,205 245,215 M200,150 L205,175 M230,170 L240,200" fill="none" stroke="#333333" stroke-width="0.55" vector-effect="non-scaling-stroke"/><path d="M205,162 C225,150 255,152 275,168 C292,182 300,205 300,222 L285,222 C285,205 278,190 265,180 C248,168 228,168 210,172 C202,170 200,166 205,162 Z" fill="#111" stroke="none"/><path d="M262,160 C268,156 276,158 277,164 C272,167 265,166 262,160 Z" fill="#efe8ae" stroke="#333333" stroke-width="0.3" vector-effect="non-scaling-stroke"/></g></g><g transform="translate(310,252) scale(0.11132)" stroke-linejoin="round"><clipPath id="sc15"><rect x="0" y="14" width="539" height="417"/></clipPath><g clip-path="url(#sc15)"><path d="M55,-10 L432,-10 C435,40 436,100 435,130 C433,160 428,180 430,190 C435,210 450,240 460,280 C465,320 455,370 440,400 L425,450 L350,450 C340,420 335,400 330,395 C300,385 240,375 200,360 C160,345 120,320 100,290 C85,270 80,250 85,230 C92,200 98,160 95,130 C80,105 70,80 55,-10 Z" fill="#edeceb" stroke="#333333" stroke-width="0.6" vector-effect="non-scaling-stroke"/><path d="M175,190 C170,220 165,250 168,275 C200,285 240,290 285,302 C290,280 290,260 285,250 C265,232 250,215 240,205 C225,200 200,195 175,190 Z" fill="#fff" stroke="#333333" stroke-width="0.6" vector-effect="non-scaling-stroke"/><path d="M338,200 C346,235 350,270 344,300 C336,335 334,380 342,450 L370,450 C376,390 390,335 386,290 C382,250 374,222 368,198 Z" fill="#fff" stroke="#333333" stroke-width="0.6" vector-effect="non-scaling-stroke"/><path d="M175,-10 C178,50 180,100 182,130 C190,160 200,180 215,195 C230,175 250,150 270,120 C290,90 300,50 305,-10 M240,205 C245,160 260,120 300,78 C320,60 350,48 395,45 C420,48 432,62 435,90 M240,205 C238,240 250,270 290,300 C310,320 325,350 335,395 M400,192 C410,196 420,200 430,190 M80,240 L160,240 M95,130 C110,150 150,170 182,175 M380,300 L455,300" fill="none" stroke="#333333" stroke-width="0.55" vector-effect="non-scaling-stroke"/></g></g><line x1="344.3" y1="263.9" x2="344.3" y2="275.6" stroke="#2f4aa6" stroke-width="2.4"/><line x1="347.0" y1="263.1" x2="347.0" y2="273.9" stroke="#e8252e" stroke-width="2.4"/><line x1="350.3" y1="259.8" x2="350.3" y2="273.4" stroke="#2f4aa6" stroke-width="2.4"/><line x1="353.1" y1="260.0" x2="353.1" y2="270.6" stroke="#e8252e" stroke-width="2.4"/><line x1="355.8" y1="260.6" x2="355.8" y2="273.4" stroke="#2f4aa6" stroke-width="2.4"/>
<g transform="translate(372,250) scale(0.20408)" stroke-linejoin="round"><clipPath id="sc16"><rect x="14" y="18" width="516" height="218"/></clipPath><g clip-path="url(#sc16)"><path d="M17,19 L68,17 L68,26 C50,27 38,28 30,29 C27,34 26,40 26,45 L17,45 Z" fill="#111" stroke="none"/><path d="M22,50 C40,35 80,25 110,27 C125,30 130,45 131,70 L133,235 M15,60 C35,50 60,50 80,60 C95,75 100,95 95,120 M25,80 C45,75 65,80 75,95 M20,105 L70,100 M30,130 C50,125 75,130 95,145 M15,160 C40,150 70,155 95,170 M20,190 C45,185 80,190 110,205 M110,60 C120,100 125,150 120,235 M130,25 C160,30 200,35 235,45 M190,60 C205,80 215,100 220,120 M200,110 L230,130" fill="none" stroke="#333333" stroke-width="0.55" vector-effect="non-scaling-stroke"/><path d="M144.6,81.8 L163.6,68.2 L185.5,76.4 L193.6,98.2 L185.5,125.5 L158.2,133.6 L146.2,128.2 L142.9,103.6 Z" fill="#ec9b6e" stroke="#333333" stroke-width="0.4" vector-effect="non-scaling-stroke"/><path d="M238,75 C238,65 246,62 252,62 C260,62 264,70 263,78 C262,86 256,90 250,90 C243,90 238,84 238,75 Z" fill="#a5cc8e" stroke="#333333" stroke-width="0.4" vector-effect="non-scaling-stroke"/><path d="M240,20 C262,30 280,48 285,68 C288,85 283,98 270,106" fill="none" stroke="#b88dc8" stroke-width="1.2" vector-effect="non-scaling-stroke"/><path d="M300,18 L525,18 C525,40 525,80 525,110 C520,150 505,180 480,200 C450,212 410,215 380,222 C360,228 345,232 330,240 L180,240 C170,215 165,185 175,160 C185,145 200,138 215,140 C245,132 280,135 305,150 C310,130 305,110 320,80 C315,60 318,40 330,18 Z" fill="#edeceb" stroke="#333333" stroke-width="0.6" vector-effect="non-scaling-stroke"/><path d="M320,88 C340,100 360,110 390,122 C415,132 435,142 450,148" fill="none" stroke="#333" stroke-width="1.5" stroke-linecap="round" vector-effect="non-scaling-stroke"/><path d="M320,88 C340,100 360,110 390,122 C415,132 435,142 450,148" fill="none" stroke="#fff" stroke-width="0.5" stroke-linecap="round" vector-effect="non-scaling-stroke"/><path d="M452,22 C432,34 418,56 417,79 C417,107 427,135 444,148 C455,152 466,144 475,132" fill="none" stroke="#333" stroke-width="1.3" stroke-linecap="round" vector-effect="non-scaling-stroke"/><path d="M452,22 C432,34 418,56 417,79 C417,107 427,135 444,148 C455,152 466,144 475,132" fill="none" stroke="#fff" stroke-width="0.45" stroke-linecap="round" vector-effect="non-scaling-stroke"/><path d="M300,18 C310,40 318,60 320,80 M180,180 C200,170 225,172 250,180 M185,200 C210,192 240,195 270,205 M200,222 C225,215 260,218 300,228 M390,120 L385,150 M430,150 L440,175 M480,150 L520,145" fill="none" stroke="#333333" stroke-width="0.55" vector-effect="non-scaling-stroke"/><path d="M205,142 C230,128 265,128 292,142 C315,155 330,180 336,210 L320,212 C315,188 302,168 282,158 C260,148 235,148 212,154 C202,152 200,146 205,142 Z" fill="#111" stroke="none"/><path d="M285,132 C292,126 302,128 305,136 C300,142 290,141 285,132 Z" fill="#efe8ae" stroke="#333333" stroke-width="0.3" vector-effect="non-scaling-stroke"/><path d="M525,10 L545,10 L545,250 L480,250 C505,200 520,150 525,110 C525,80 525,40 525,10 Z" fill="#fff" stroke="#333333" stroke-width="0.5" vector-effect="non-scaling-stroke"/></g></g><line x1="468.0" y1="258.2" x2="468.0" y2="274.5" stroke="#2f4aa6" stroke-width="2.0"/><line x1="470.8" y1="260.2" x2="470.8" y2="273.5" stroke="#e8252e" stroke-width="2.0"/>
<g transform="translate(14,312) scale(0.18553)" stroke-linejoin="round"><clipPath id="sc17"><rect x="40" y="15" width="475" height="306"/></clipPath><g clip-path="url(#sc17)"><path d="M60,5 L165,5 C165,30 165,55 150,78 C135,92 110,92 100,82 C96,95 102,110 96,125 C100,140 96,150 98,160 C85,170 80,190 80,215 C82,240 92,270 100,330 L50,330 C45,290 42,250 48,210 C50,170 58,140 55,120 C62,100 58,70 60,5 Z" fill="#fff" stroke="#333333" stroke-width="0.6" vector-effect="non-scaling-stroke"/><path d="M60,5 L165,5 C165,30 165,55 150,78 C135,92 110,92 100,82 C88,75 75,60 62,40 Z" fill="#edeceb" stroke="#333333" stroke-width="0.6" vector-effect="non-scaling-stroke"/><path d="M70,40 C90,45 110,60 130,50 M60,100 L95,100 M58,120 L96,122 M52,165 L95,160 M50,215 L85,212 M55,260 L92,262" fill="none" stroke="#333333" stroke-width="0.55" vector-effect="non-scaling-stroke"/><path d="M148,155 C180,155 210,170 218,200 C222,215 240,222 255,238 C260,255 250,272 232,280 C205,286 188,295 175,305 C165,315 160,325 155,330 L105,330 C100,300 98,270 100,240 C100,210 110,180 125,162 C132,157 140,155 148,155 Z" fill="#efe8ae" stroke="#333333" stroke-width="0.4" vector-effect="non-scaling-stroke"/><path d="M198,218 C210,212 225,215 232,225 C240,232 242,245 236,255 C225,262 210,260 200,250 C192,240 190,228 198,218 Z" fill="#fff" stroke="#333333" stroke-width="0.4" vector-effect="non-scaling-stroke"/><path d="M205,225 L225,245 M200,240 L230,232 M210,255 L228,222" fill="none" stroke="#333333" stroke-width="0.55" vector-effect="non-scaling-stroke"/><path d="M62,175 C72,162 90,155 115,152 C130,150 145,152 150,155 C130,168 116,185 108,205 C102,222 100,240 100,250 C85,245 70,230 62,212 C58,200 58,186 62,175 Z" fill="#111" stroke="none"/><path d="M58,138 C90,132 125,135 150,140 M45,215 C55,220 62,230 70,240" fill="none" stroke="#333333" stroke-width="0.55" vector-effect="non-scaling-stroke"/><path d="M205,5 L310,5 C305,30 300,60 290,85 C270,100 235,100 215,85 C200,65 200,40 205,5 Z" fill="#edeceb" stroke="#333333" stroke-width="0.6" vector-effect="non-scaling-stroke"/><path d="M230,45 L285,35 M250,65 L275,55" fill="none" stroke="#333333" stroke-width="0.55" vector-effect="non-scaling-stroke"/><path d="M320,5 L385,5 C420,35 450,75 470,125 C480,165 495,210 505,260 L510,330 L380,330 C370,300 360,285 350,275 C335,255 325,230 330,205 C332,185 335,165 340,130 C325,110 328,80 325,60 C322,40 318,20 320,5 Z" fill="#edeceb" stroke="#333333" stroke-width="0.6" vector-effect="non-scaling-stroke"/><path d="M335,198 C360,192 400,188 440,176 C455,170 465,162 475,160 C470,172 460,180 445,186 C410,198 370,205 340,208 Z" fill="#fff" stroke="#333333" stroke-width="0.45" vector-effect="non-scaling-stroke"/><path d="M340,130 C365,115 395,105 420,100 M345,60 C370,70 395,75 420,72 M410,75 L420,125 M350,235 C380,230 420,225 455,215 M390,240 L400,320 M420,270 L500,275" fill="none" stroke="#333333" stroke-width="0.55" vector-effect="non-scaling-stroke"/><path d="M240,295 C262,275 290,258 322,252 C345,250 362,258 376,270" fill="none" stroke="#cdb48f" stroke-width="1.6" vector-effect="non-scaling-stroke"/><path d="M300,235 L305,255 M290,232 L310,238" fill="none" stroke="#333333" stroke-width="0.55" vector-effect="non-scaling-stroke"/></g></g><line x1="78.9" y1="347.3" x2="84.1" y2="340.8" stroke="#e8252e" stroke-width="1.8"/><line x1="85.1" y1="344.5" x2="90.1" y2="338.9" stroke="#2f4aa6" stroke-width="1.8"/><line x1="90.1" y1="346.3" x2="95.6" y2="338.3" stroke="#e8252e" stroke-width="1.8"/><line x1="81.7" y1="357.5" x2="89.1" y2="351.0" stroke="#e8252e" stroke-width="1.8"/>
<g transform="translate(120,312) scale(0.18553)" stroke-linejoin="round"><clipPath id="sc18"><rect x="15" y="15" width="465" height="306"/></clipPath><g clip-path="url(#sc18)"><path d="M20,5 L125,5 C132,30 130,60 122,82 C110,100 80,100 62,92 C66,110 68,125 62,140 C60,150 50,158 45,175 C38,200 40,240 48,270 C52,290 55,310 55,330 L10,330 C12,280 8,230 12,180 C14,140 20,110 22,90 C20,60 18,30 20,5 Z" fill="#fff" stroke="#333333" stroke-width="0.6" vector-effect="non-scaling-stroke"/><path d="M20,5 L125,5 C132,30 130,60 122,82 C110,100 80,100 62,92 C45,80 30,50 20,5 Z" fill="#edeceb" stroke="#333333" stroke-width="0.6" vector-effect="non-scaling-stroke"/><path d="M35,50 C60,60 90,60 120,55 M25,100 L62,102 M20,125 L65,125 M15,210 L45,210 M20,265 L50,268" fill="none" stroke="#333333" stroke-width="0.55" vector-effect="non-scaling-stroke"/><path d="M120,162 C150,165 178,175 188,200 C192,220 200,230 206,245 C206,262 195,275 175,282 C160,290 150,305 142,330 L85,330 C80,300 78,270 82,245 C86,215 98,185 120,162 Z" fill="#efe8ae" stroke="#333333" stroke-width="0.4" vector-effect="non-scaling-stroke"/><path d="M165,232 C178,228 195,232 205,242 C210,255 205,268 192,272 C178,272 166,262 162,250 C160,242 160,236 165,232 Z" fill="#fff" stroke="#333333" stroke-width="0.4" vector-effect="non-scaling-stroke"/><path d="M45,180 C55,170 75,165 95,163 C105,162 115,162 122,162 C108,178 98,195 92,215 C88,232 84,250 82,262 C68,250 55,232 48,215 C43,203 42,190 45,180 Z" fill="#111" stroke="none"/><path d="M30,145 C60,140 95,145 120,150" fill="none" stroke="#333333" stroke-width="0.55" vector-effect="non-scaling-stroke"/><path d="M185,5 L288,5 C292,40 292,70 282,95 C265,115 230,118 205,105 C185,92 175,65 178,40 C180,25 183,15 185,5 Z" fill="#edeceb" stroke="#333333" stroke-width="0.6" vector-effect="non-scaling-stroke"/><path d="M210,80 C225,65 245,50 265,38" fill="none" stroke="#333" stroke-width="1.2" stroke-linecap="round" vector-effect="non-scaling-stroke"/><path d="M210,80 C225,65 245,50 265,38" fill="none" stroke="#fff" stroke-width="0.4" stroke-linecap="round" vector-effect="non-scaling-stroke"/><path d="M250,20 L265,40" fill="none" stroke="#333333" stroke-width="0.55" vector-effect="non-scaling-stroke"/><path d="M295,5 C330,30 360,50 385,60 C410,80 430,110 445,150 C455,200 465,250 470,330 L380,330 C365,300 345,270 325,245 C305,225 298,200 305,170 C310,150 320,140 318,135 C300,128 288,115 290,95 C292,70 296,40 295,5 Z" fill="#edeceb" stroke="#333333" stroke-width="0.6" vector-effect="non-scaling-stroke"/><path d="M348,234 C372,224 398,212 422,200 C430,197 436,198 440,202 C424,209 400,221 374,231 C362,236 354,237 348,234 Z" fill="#fff" stroke="#333333" stroke-width="0.45" vector-effect="non-scaling-stroke"/><path d="M310,70 C330,85 360,95 380,100 M330,130 C360,120 390,115 420,120 M385,60 L395,120 M360,250 C385,258 410,260 440,258 M380,270 L420,300 M400,280 L405,320" fill="none" stroke="#333333" stroke-width="0.55" vector-effect="non-scaling-stroke"/><path d="M220,288 C245,268 275,256 305,256 C322,258 335,266 345,276" fill="none" stroke="#cdb48f" stroke-width="1.6" vector-effect="non-scaling-stroke"/></g></g><line x1="182.2" y1="351.9" x2="188.6" y2="344.5" stroke="#2f4aa6" stroke-width="1.8"/><line x1="185.9" y1="351.9" x2="194.2" y2="342.6" stroke="#e8252e" stroke-width="1.8"/><line x1="182.2" y1="357.5" x2="184.9" y2="354.7" stroke="#e8252e" stroke-width="1.8"/><text x="207.5" y="343.2" font-size="5.6" font-style="italic" fill="#333">Lat</text>
<g transform="translate(226,312) scale(0.18553)" stroke-linejoin="round"><clipPath id="sc19"><rect x="18" y="15" width="432" height="240"/></clipPath><g clip-path="url(#sc19)"><path d="M30,5 L135,5 C140,30 135,55 122,68 C105,80 80,75 65,65 C62,80 60,95 55,110 C48,130 35,150 30,175 C25,200 30,230 40,255 L10,255 C12,200 15,140 22,100 C28,70 32,40 30,5 Z" fill="#fff" stroke="#333333" stroke-width="0.6" vector-effect="non-scaling-stroke"/><path d="M30,5 L135,5 C140,30 135,55 122,68 C105,80 80,75 65,65 C50,55 38,35 30,5 Z" fill="#edeceb" stroke="#333333" stroke-width="0.6" vector-effect="non-scaling-stroke"/><path d="M40,35 C60,45 90,48 120,40 M30,95 L60,95 M25,135 L55,138 M22,215 L45,212" fill="none" stroke="#333333" stroke-width="0.55" vector-effect="non-scaling-stroke"/><path d="M130,145 C165,148 192,165 203,190 C208,210 198,228 185,240 C178,246 174,250 172,260 L90,260 C92,230 97,200 106,175 C112,160 120,150 130,145 Z" fill="#efe8ae" stroke="#333333" stroke-width="0.4" vector-effect="non-scaling-stroke"/><path d="M195,180 L205,178 M198,200 L210,204 M190,222 L200,230 M150,195 L165,200" fill="none" stroke="#333333" stroke-width="0.55" vector-effect="non-scaling-stroke"/><path d="M55,168 C65,155 85,148 108,146 C118,145 125,145 130,145 C118,160 108,178 102,198 C98,212 96,225 95,235 C80,228 66,212 58,195 C54,185 53,176 55,168 Z" fill="#111" stroke="none"/><path d="M38,128 C70,122 100,124 130,130" fill="none" stroke="#333333" stroke-width="0.55" vector-effect="non-scaling-stroke"/><path d="M183,5 L288,5 C288,30 282,55 268,75 C250,90 220,90 200,75 C185,60 180,35 183,5 Z" fill="#edeceb" stroke="#333333" stroke-width="0.6" vector-effect="non-scaling-stroke"/><path d="M205,45 C225,35 245,25 255,15 M215,60 L250,55" fill="none" stroke="#333333" stroke-width="0.55" vector-effect="non-scaling-stroke"/><path d="M292,5 L335,5 C370,35 400,65 420,100 C435,135 442,175 445,260 L360,260 C345,240 325,220 315,200 C308,180 315,155 330,135 C315,128 290,120 275,108 C262,92 268,70 278,50 C285,35 290,20 292,5 Z" fill="#edeceb" stroke="#333333" stroke-width="0.6" vector-effect="non-scaling-stroke"/><path d="M300,55 C320,60 345,62 370,60 M340,120 C365,110 390,100 410,92 M370,200 C390,205 410,210 430,215 M380,230 L395,260" fill="none" stroke="#333333" stroke-width="0.55" vector-effect="non-scaling-stroke"/><path d="M240,252 C258,238 280,230 302,230 C320,232 332,240 342,250" fill="none" stroke="#cdb48f" stroke-width="1.6" vector-effect="non-scaling-stroke"/><path d="M265,200 L270,212 M255,198 L280,200" fill="none" stroke="#333333" stroke-width="0.55" vector-effect="non-scaling-stroke"/></g></g><line x1="294.9" y1="330.4" x2="299.7" y2="324.8" stroke="#2f4aa6" stroke-width="2.5"/><line x1="297.5" y1="331.9" x2="302.2" y2="326.3" stroke="#e8252e" stroke-width="2.5"/><line x1="285.0" y1="345.6" x2="300.2" y2="334.1" stroke="#2f4aa6" stroke-width="2.5"/><line x1="287.7" y1="348.5" x2="303.1" y2="335.3" stroke="#e8252e" stroke-width="2.5"/>
<g transform="translate(14,385) scale(0.16697)" stroke-linejoin="round"><clipPath id="sc20"><rect x="10" y="38" width="465" height="283"/></clipPath><g clip-path="url(#sc20)"><path d="M20,30 L55,30 C62,60 55,90 52,120 C60,150 62,175 58,200 C72,210 80,225 82,240 C80,262 70,280 62,300 C58,315 52,325 45,335 L15,335 C18,300 12,270 16,240 C20,210 14,180 18,150 C16,110 22,70 20,30 Z" fill="#f5f5f4" stroke="#333333" stroke-width="0.6" vector-effect="non-scaling-stroke"/><path d="M185,30 L395,30 C385,45 360,52 330,62 C310,80 290,92 260,96 C225,95 198,82 188,62 C185,50 185,40 185,30 Z" fill="#edeceb" stroke="#333333" stroke-width="0.6" vector-effect="non-scaling-stroke"/><path d="M212,50 C240,45 270,42 300,40 C295,50 275,55 250,56 C230,58 215,56 212,50 Z" fill="#fff" stroke="#333333" stroke-width="0.45" vector-effect="non-scaling-stroke"/><path d="M100,152 C125,140 160,128 205,122 C235,118 262,122 268,138 C270,152 282,160 300,152 C325,146 345,142 358,120 C368,95 372,70 380,52 C390,42 402,50 410,70 C418,95 430,110 450,125 C462,145 468,170 460,200 C450,215 430,222 400,225 C370,222 345,216 320,216 C290,218 260,224 230,230 C190,238 150,250 115,262 C95,272 80,282 68,295 C62,280 70,262 80,240 C82,215 88,175 100,152 Z" fill="#edeceb" stroke="#333333" stroke-width="0.6" vector-effect="non-scaling-stroke"/><path d="M130,150 C145,175 150,210 160,245 M330,160 L338,215 M360,175 L372,220 M402,130 C420,132 440,130 452,128 M395,175 L455,185 M18,200 C35,195 50,198 58,200 M18,250 L70,252 M20,100 L55,102 M58,60 L100,62" fill="none" stroke="#333333" stroke-width="0.55" vector-effect="non-scaling-stroke"/></g></g><g transform="translate(96,385) scale(0.16697)" stroke-linejoin="round"><clipPath id="sc21"><rect x="10" y="38" width="460" height="274"/></clipPath><g clip-path="url(#sc21)"><path d="M15,30 L62,30 C68,60 60,90 58,120 C66,150 68,170 60,195 C75,210 82,225 80,245 C72,268 62,290 55,330 L12,330 C16,300 10,270 14,240 C18,210 12,180 16,150 C14,110 18,70 15,30 Z" fill="#f5f5f4" stroke="#333333" stroke-width="0.6" vector-effect="non-scaling-stroke"/><path d="M185,30 L342,30 C338,48 325,62 300,74 C270,82 230,80 210,72 C192,62 186,48 185,30 Z" fill="#edeceb" stroke="#333333" stroke-width="0.6" vector-effect="non-scaling-stroke"/><path d="M215,45 C240,42 265,40 290,42 C285,50 265,54 245,54 C228,54 218,52 215,45 Z" fill="#fff" stroke="#333333" stroke-width="0.45" vector-effect="non-scaling-stroke"/><path d="M100,160 C125,142 160,128 200,120 C230,113 262,108 280,115 C288,125 295,140 310,140 C330,140 345,135 358,112 C366,90 370,65 380,50 C392,38 405,48 412,68 C420,95 428,110 442,125 C458,140 465,165 455,195 C440,212 420,218 400,215 C380,212 365,205 340,202 C310,200 285,203 260,208 C230,215 200,222 170,232 C140,243 115,255 95,270 C82,280 72,292 62,302 C60,285 66,265 75,240 C80,210 88,180 100,160 Z" fill="#edeceb" stroke="#333333" stroke-width="0.6" vector-effect="non-scaling-stroke"/><path d="M122,160 C135,185 140,210 150,240 M380,160 C385,180 390,195 395,210 M410,150 L455,160 M16,200 L60,198 M16,250 L70,252 M340,200 C342,215 345,225 350,232 M20,100 L58,102" fill="none" stroke="#333333" stroke-width="0.55" vector-effect="non-scaling-stroke"/></g></g><g transform="translate(176,385) scale(0.16697)" stroke-linejoin="round"><clipPath id="sc22"><rect x="20" y="38" width="455" height="287"/></clipPath><g clip-path="url(#sc22)"><path d="M25,30 L75,30 C80,60 72,90 68,120 C76,150 80,170 72,195 C90,205 110,215 135,220 C145,232 140,250 128,262 C110,280 95,300 80,335 L25,335 C28,300 22,270 26,240 C30,210 24,180 28,150 C26,110 30,70 25,30 Z" fill="#f5f5f4" stroke="#333333" stroke-width="0.6" vector-effect="non-scaling-stroke"/><path d="M190,30 L378,30 C370,45 355,58 330,66 C300,74 260,75 230,70 C205,64 193,50 190,30 Z" fill="#edeceb" stroke="#333333" stroke-width="0.6" vector-effect="non-scaling-stroke"/><path d="M115,150 C138,132 170,122 205,115 C240,108 272,98 300,95 C320,95 335,100 352,92 C368,80 372,60 385,45 C402,40 425,55 440,80 C448,110 455,130 466,150 C465,175 455,192 435,200 C410,206 385,203 360,198 C335,192 310,190 280,190 C250,192 220,200 190,212 C160,225 140,238 125,255 C120,235 118,215 120,195 C118,180 112,165 115,150 Z" fill="#edeceb" stroke="#333333" stroke-width="0.6" vector-effect="non-scaling-stroke"/><path d="M215,158 C232,145 255,132 283,120 C278,135 265,152 252,165 C240,168 225,166 215,158 Z" fill="#fff" stroke="#333333" stroke-width="0.45" vector-effect="non-scaling-stroke"/><path d="M155,140 C170,165 175,185 180,205 M250,190 L250,225 M400,150 L460,160 M380,60 L440,80 M28,200 L72,200 M30,250 L80,250 M28,100 L70,100 M150,240 L175,275" fill="none" stroke="#333333" stroke-width="0.55" vector-effect="non-scaling-stroke"/></g></g><g transform="translate(256,385) scale(0.16697)" stroke-linejoin="round"><clipPath id="sc23"><rect x="35" y="38" width="435" height="287"/></clipPath><g clip-path="url(#sc23)"><path d="M40,30 L95,30 C98,60 92,90 88,120 C96,150 98,170 92,195 C110,200 130,195 150,185 C165,195 165,215 158,235 C145,262 125,285 100,310 C90,320 80,325 70,335 L40,335 C45,300 38,270 42,240 C45,210 38,180 42,150 C40,110 44,70 40,30 Z" fill="#f5f5f4" stroke="#333333" stroke-width="0.6" vector-effect="non-scaling-stroke"/><path d="M190,30 L405,30 C395,50 375,62 340,70 C300,78 255,76 225,68 C205,60 193,48 190,30 Z" fill="#edeceb" stroke="#333333" stroke-width="0.6" vector-effect="non-scaling-stroke"/><path d="M120,140 C145,128 175,126 205,122 C240,115 272,105 300,98 C325,94 345,92 365,85 C375,70 380,55 395,45 C415,44 432,55 440,85 C445,110 447,135 455,160 C450,178 432,188 405,190 C380,190 360,186 340,182 C315,176 295,168 275,160 C250,158 225,160 200,168 C185,178 175,195 168,215 C160,240 150,265 135,285 C125,265 130,240 138,215 C145,190 138,165 120,140 Z" fill="#edeceb" stroke="#333333" stroke-width="0.6" vector-effect="non-scaling-stroke"/><path d="M100,30 L160,30 C158,50 148,65 130,70 C115,68 105,55 100,30 Z" fill="#edeceb" stroke="#333333" stroke-width="0.6" vector-effect="non-scaling-stroke"/><path d="M150,150 C165,160 180,168 200,172 M270,160 L262,195 M295,110 L280,150 M385,95 L440,95 M395,140 L450,150 M42,200 L92,200 M45,250 L100,255" fill="none" stroke="#333333" stroke-width="0.55" vector-effect="non-scaling-stroke"/></g></g><g transform="translate(336,385) scale(0.16697)" stroke-linejoin="round"><clipPath id="sc24"><rect x="15" y="38" width="425" height="280"/></clipPath><g clip-path="url(#sc24)"><path d="M20,30 L72,30 C76,60 70,90 66,120 C74,150 76,170 70,195 C85,200 100,195 115,185 C128,195 130,215 125,235 C115,262 100,285 80,305 C72,315 65,322 58,335 L20,335 C24,300 18,270 22,240 C25,210 18,180 22,150 C20,110 24,70 20,30 Z" fill="#f5f5f4" stroke="#333333" stroke-width="0.6" vector-effect="non-scaling-stroke"/><path d="M170,30 L412,30 C405,52 390,65 355,70 C310,76 250,78 210,70 C188,62 175,48 170,30 Z" fill="#edeceb" stroke="#333333" stroke-width="0.6" vector-effect="non-scaling-stroke"/><path d="M105,140 C130,130 165,125 200,120 C230,112 262,98 290,85 C305,85 315,92 325,88 C340,80 352,65 362,52 C375,42 400,44 412,55 C425,75 428,100 420,128 C410,145 390,152 360,155 C340,152 325,145 310,135 C300,130 292,132 285,140 C260,145 235,145 210,150 C190,155 172,165 162,180 C155,205 150,225 135,250 C120,270 100,290 78,305 C82,280 100,255 112,230 C125,200 125,170 105,140 Z" fill="#edeceb" stroke="#333333" stroke-width="0.6" vector-effect="non-scaling-stroke"/><path d="M78,30 L162,30 C158,52 145,68 120,72 C98,68 85,52 78,30 Z" fill="#edeceb" stroke="#333333" stroke-width="0.6" vector-effect="non-scaling-stroke"/><path d="M120,150 C140,158 158,162 175,165 M290,100 L280,155 M300,95 L305,130 M362,95 L410,92 M22,200 L70,200 M25,250 L85,250" fill="none" stroke="#333333" stroke-width="0.55" vector-effect="non-scaling-stroke"/></g></g><line x1="59.9" y1="420.1" x2="64.9" y2="412.6" stroke="#2f4aa6" stroke-width="1.8"/><line x1="62.6" y1="420.6" x2="68.3" y2="412.8" stroke="#e8252e" stroke-width="1.8"/><line x1="137.4" y1="413.4" x2="143.3" y2="406.4" stroke="#e8252e" stroke-width="1.8"/><line x1="144.1" y1="418.1" x2="149.4" y2="411.4" stroke="#e8252e" stroke-width="1.8"/><line x1="225.8" y1="416.3" x2="231.4" y2="408.6" stroke="#2f4aa6" stroke-width="2.1"/><line x1="229.3" y1="416.3" x2="234.9" y2="408.6" stroke="#e8252e" stroke-width="2.1"/><line x1="232.8" y1="416.3" x2="238.4" y2="408.6" stroke="#2f4aa6" stroke-width="2.1"/><line x1="236.3" y1="416.3" x2="241.9" y2="408.6" stroke="#e8252e" stroke-width="2.1"/><line x1="239.8" y1="416.3" x2="245.4" y2="408.6" stroke="#2f4aa6" stroke-width="2.1"/><line x1="306.1" y1="410.9" x2="311.9" y2="404.2" stroke="#2f4aa6" stroke-width="2.1"/><line x1="309.0" y1="411.7" x2="314.8" y2="405.0" stroke="#e8252e" stroke-width="2.1"/><line x1="311.9" y1="412.5" x2="317.7" y2="405.9" stroke="#e8252e" stroke-width="2.1"/><line x1="315.3" y1="415.1" x2="321.1" y2="408.4" stroke="#2f4aa6" stroke-width="2.1"/><line x1="386.1" y1="407.5" x2="391.9" y2="400.4" stroke="#2f4aa6" stroke-width="2.0"/><text x="356.8" y="437.2" font-size="6.2" font-style="italic" font-weight="bold" fill="#333">Ventral</text>
<g transform="translate(14,118) scale(0.20408)"><text x="262" y="80" font-size="12.2" text-anchor="middle" fill="#4a4a4a">MST</text><text x="352" y="70" font-size="12.2" text-anchor="middle" fill="#4a4a4a">Tpt</text><text x="395" y="125" font-size="12.2" text-anchor="middle" fill="#4a4a4a">V4</text><text x="315" y="188" font-size="12.2" text-anchor="middle" fill="#4a4a4a">V4t</text><text x="100" y="100" font-size="12.2" text-anchor="middle" fill="#4a4a4a">V2</text><text x="25" y="67" font-size="12.2" text-anchor="middle" fill="#4a4a4a">V2d</text><text x="110" y="190" font-size="12.2" text-anchor="middle" fill="#4a4a4a">TEO</text><text x="40" y="230" font-size="12.2" text-anchor="middle" fill="#4a4a4a">V4v</text><text x="470" y="240" font-size="12.2" text-anchor="middle" fill="#4a4a4a">V4V</text><text x="430" y="45" font-size="12.2" text-anchor="middle" fill="#4a4a4a">IPa</text></g><g transform="translate(126,118) scale(0.20408)"><text x="275" y="65" font-size="12.2" text-anchor="middle" fill="#4a4a4a">MST</text><text x="375" y="62" font-size="12.2" text-anchor="middle" fill="#4a4a4a">Tpt</text><text x="410" y="120" font-size="12.2" text-anchor="middle" fill="#4a4a4a">FST</text><text x="315" y="158" font-size="12.2" text-anchor="middle" fill="#4a4a4a">MT</text><text x="375" y="150" font-size="12.2" text-anchor="middle" fill="#4a4a4a">V4t</text><text x="465" y="118" font-size="12.2" text-anchor="middle" fill="#4a4a4a">V4</text><text x="40" y="160" font-size="12.2" text-anchor="middle" fill="#4a4a4a">V2v</text><text x="120" y="215" font-size="12.2" text-anchor="middle" fill="#4a4a4a">TEO</text><text x="235" y="258" font-size="12.2" text-anchor="middle" fill="#4a4a4a">PH</text><text x="50" y="270" font-size="12.2" text-anchor="middle" fill="#4a4a4a">V1</text><text x="500" y="188" font-size="12.2" text-anchor="middle" fill="#4a4a4a">V4V</text><text x="110" y="45" font-size="12.2" text-anchor="middle" fill="#4a4a4a">V2</text></g><g transform="translate(238,118) scale(0.21151)"><text x="235" y="80" font-size="11.8" text-anchor="middle" fill="#4a4a4a">MST</text><text x="345" y="78" font-size="11.8" text-anchor="middle" fill="#4a4a4a">TPO</text><text x="400" y="100" font-size="11.8" text-anchor="middle" fill="#4a4a4a">PGa</text><text x="320" y="185" font-size="11.8" text-anchor="middle" fill="#4a4a4a">MT</text><text x="370" y="170" font-size="11.8" text-anchor="middle" fill="#4a4a4a">FST</text><text x="250" y="160" font-size="11.8" text-anchor="middle" fill="#4a4a4a">V4t</text><text x="70" y="150" font-size="11.8" text-anchor="middle" fill="#4a4a4a">DG</text><text x="40" y="180" font-size="11.8" text-anchor="middle" fill="#4a4a4a">CA1</text><text x="140" y="230" font-size="11.8" text-anchor="middle" fill="#4a4a4a">PH</text><text x="60" y="255" font-size="11.8" text-anchor="middle" fill="#4a4a4a">TF</text><text x="480" y="130" font-size="11.8" text-anchor="middle" fill="#4a4a4a">V4</text><text x="110" y="35" font-size="11.8" text-anchor="middle" fill="#4a4a4a">V2</text></g><g transform="translate(14,192) scale(0.20408)"><text x="105" y="45" font-size="12.2" text-anchor="middle" fill="#4a4a4a">PGa</text><text x="145" y="42" font-size="12.2" text-anchor="middle" fill="#4a4a4a">ENT</text><text x="60" y="125" font-size="12.2" text-anchor="middle" fill="#4a4a4a">TH</text><text x="90" y="158" font-size="12.2" text-anchor="middle" fill="#4a4a4a">TF</text><text x="20" y="70" font-size="12.2" text-anchor="middle" fill="#4a4a4a">MLF</text></g><g transform="translate(44,194) scale(0.14842)"><text x="230" y="55" font-size="16.8" text-anchor="middle" fill="#4a4a4a">TEO</text><text x="340" y="65" font-size="16.8" text-anchor="middle" fill="#4a4a4a">IPa</text><text x="260" y="130" font-size="16.8" text-anchor="middle" fill="#4a4a4a">TEa</text><text x="365" y="155" font-size="16.8" text-anchor="middle" fill="#4a4a4a">TEm</text><text x="300" y="160" font-size="16.8" text-anchor="middle" fill="#4a4a4a">CA1</text><text x="230" y="175" font-size="16.8" text-anchor="middle" fill="#4a4a4a">CA3</text><text x="450" y="215" font-size="16.8" text-anchor="middle" fill="#4a4a4a">TE1</text><text x="455" y="40" font-size="16.8" text-anchor="middle" fill="#4a4a4a">STP</text></g><g transform="translate(120,192) scale(0.20408)"><text x="100" y="100" font-size="12.2" text-anchor="middle" fill="#4a4a4a">TH</text><text x="40" y="75" font-size="12.2" text-anchor="middle" fill="#4a4a4a">MLF</text><text x="360" y="45" font-size="12.2" text-anchor="middle" fill="#4a4a4a">TEa</text><text x="400" y="55" font-size="12.2" text-anchor="middle" fill="#4a4a4a">TEm</text><text x="345" y="100" font-size="12.2" text-anchor="middle" fill="#4a4a4a">IPa</text><text x="410" y="105" font-size="12.2" text-anchor="middle" fill="#4a4a4a">TE2</text><text x="480" y="150" font-size="12.2" text-anchor="middle" fill="#4a4a4a">TE1</text><text x="390" y="205" font-size="12.2" text-anchor="middle" fill="#4a4a4a">TE3</text><text x="240" y="160" font-size="12.2" text-anchor="middle" fill="#4a4a4a">CA1</text><text x="210" y="190" font-size="12.2" text-anchor="middle" fill="#4a4a4a">DG</text></g><g transform="translate(14,250) scale(0.22263)"><text x="40" y="28" font-size="11.2" text-anchor="middle" fill="#4a4a4a">CC splenium</text><text x="125" y="75" font-size="11.2" text-anchor="middle" fill="#4a4a4a">Pul</text><text x="170" y="110" font-size="11.2" text-anchor="middle" fill="#4a4a4a">LGN</text><text x="225" y="95" font-size="11.2" text-anchor="middle" fill="#4a4a4a">pref</text><text x="45" y="95" font-size="11.2" text-anchor="middle" fill="#4a4a4a">MD</text><text x="140" y="160" font-size="11.2" text-anchor="middle" fill="#4a4a4a">CA1</text><text x="60" y="130" font-size="11.2" text-anchor="middle" fill="#4a4a4a">VPL</text></g><g transform="translate(64,250) scale(0.11132)"><text x="190" y="165" font-size="22.5" text-anchor="middle" fill="#4a4a4a">TE?</text><text x="320" y="90" font-size="22.5" text-anchor="middle" fill="#4a4a4a">TEO</text><text x="420" y="260" font-size="22.5" text-anchor="middle" fill="#4a4a4a">TE3</text></g><g transform="translate(134,250) scale(0.22263)"><text x="40" y="75" font-size="11.2" text-anchor="middle" fill="#4a4a4a">Pul</text><text x="60" y="118" font-size="11.2" text-anchor="middle" fill="#4a4a4a">LGN</text><text x="130" y="105" font-size="11.2" text-anchor="middle" fill="#4a4a4a">PM</text><text x="200" y="155" font-size="11.2" text-anchor="middle" fill="#4a4a4a">PL</text><text x="260" y="130" font-size="11.2" text-anchor="middle" fill="#4a4a4a">CoN</text><text x="300" y="65" font-size="11.2" text-anchor="middle" fill="#4a4a4a">IPa</text><text x="370" y="40" font-size="11.2" text-anchor="middle" fill="#4a4a4a">TEa</text><text x="410" y="130" font-size="11.2" text-anchor="middle" fill="#4a4a4a">TEO</text><text x="320" y="155" font-size="11.2" text-anchor="middle" fill="#4a4a4a">TEm</text><text x="150" y="185" font-size="11.2" text-anchor="middle" fill="#4a4a4a">CA1</text></g><g transform="translate(254,250) scale(0.22263)"><text x="60" y="28" font-size="11.2" text-anchor="middle" fill="#4a4a4a">CC</text><text x="110" y="55" font-size="11.2" text-anchor="middle" fill="#4a4a4a">Pul</text><text x="80" y="100" font-size="11.2" text-anchor="middle" fill="#4a4a4a">MD</text><text x="180" y="110" font-size="11.2" text-anchor="middle" fill="#4a4a4a">PL</text><text x="240" y="90" font-size="11.2" text-anchor="middle" fill="#4a4a4a">LGN</text><text x="40" y="180" font-size="11.2" text-anchor="middle" fill="#4a4a4a">VPL</text><text x="220" y="180" font-size="11.2" text-anchor="middle" fill="#4a4a4a">CA3</text><text x="250" y="200" font-size="11.2" text-anchor="middle" fill="#4a4a4a">DG</text></g><g transform="translate(314,250) scale(0.11132)"><text x="80" y="80" font-size="22.5" text-anchor="middle" fill="#4a4a4a">PGa</text><text x="200" y="40" font-size="22.5" text-anchor="middle" fill="#4a4a4a">TPO</text><text x="70" y="265" font-size="22.5" text-anchor="middle" fill="#4a4a4a">FST</text><text x="195" y="355" font-size="22.5" text-anchor="middle" fill="#4a4a4a">TEO</text><text x="260" y="320" font-size="22.5" text-anchor="middle" fill="#4a4a4a">TE3</text><text x="370" y="410" font-size="22.5" text-anchor="middle" fill="#4a4a4a">TE2</text></g><g transform="translate(372,250) scale(0.20408)"><text x="70" y="100" font-size="12.2" text-anchor="middle" fill="#4a4a4a">Pul</text><text x="50" y="130" font-size="12.2" text-anchor="middle" fill="#4a4a4a">MD</text><text x="160" y="100" font-size="12.2" text-anchor="middle" fill="#4a4a4a">PGm</text><text x="215" y="45" font-size="12.2" text-anchor="middle" fill="#4a4a4a">LGN</text><text x="300" y="45" font-size="12.2" text-anchor="middle" fill="#4a4a4a">LON</text><text x="345" y="70" font-size="12.2" text-anchor="middle" fill="#4a4a4a">PGa</text><text x="400" y="35" font-size="12.2" text-anchor="middle" fill="#4a4a4a">TPO</text><text x="380" y="150" font-size="12.2" text-anchor="middle" fill="#4a4a4a">IPa</text><text x="450" y="145" font-size="12.2" text-anchor="middle" fill="#4a4a4a">TEa</text><text x="480" y="210" font-size="12.2" text-anchor="middle" fill="#4a4a4a">TE2</text><text x="240" y="190" font-size="12.2" text-anchor="middle" fill="#4a4a4a">CA1</text><text x="345" y="175" font-size="12.2" text-anchor="middle" fill="#4a4a4a">CA3</text></g><g transform="translate(14,312) scale(0.18553)"><text x="80" y="135" font-size="13.5" text-anchor="middle" fill="#4a4a4a">CC genu</text><text x="320" y="25" font-size="13.5" text-anchor="middle" fill="#4a4a4a">8Ad</text><text x="352" y="90" font-size="13.5" text-anchor="middle" fill="#4a4a4a">46d</text><text x="408" y="95" font-size="13.5" text-anchor="middle" fill="#4a4a4a">8Av</text><text x="300" y="225" font-size="13.5" text-anchor="middle" fill="#4a4a4a">ac</text><text x="440" y="270" font-size="13.5" text-anchor="middle" fill="#4a4a4a">Ia dysgr</text><text x="175" y="195" font-size="13.5" text-anchor="middle" fill="#4a4a4a">Cd</text><text x="210" y="250" font-size="13.5" text-anchor="middle" fill="#4a4a4a">Pu</text><text x="240" y="70" font-size="13.5" text-anchor="middle" fill="#4a4a4a">9/46</text></g><g transform="translate(120,312) scale(0.18553)"><text x="60" y="150" font-size="13.5" text-anchor="middle" fill="#4a4a4a">CC genu</text><text x="320" y="25" font-size="13.5" text-anchor="middle" fill="#4a4a4a">9d</text><text x="395" y="128" font-size="13.5" text-anchor="middle" fill="#4a4a4a">46d</text><text x="410" y="170" font-size="13.5" text-anchor="middle" fill="#4a4a4a">46v</text><text x="270" y="230" font-size="13.5" text-anchor="middle" fill="#4a4a4a">ac</text><text x="440" y="285" font-size="13.5" text-anchor="middle" fill="#4a4a4a">Ia dysgr</text><text x="150" y="215" font-size="13.5" text-anchor="middle" fill="#4a4a4a">Cd</text><text x="120" y="300" font-size="13.5" text-anchor="middle" fill="#4a4a4a">Pu</text><text x="225" y="90" font-size="13.5" text-anchor="middle" fill="#4a4a4a">8B</text><text x="90" y="70" font-size="13.5" text-anchor="middle" fill="#4a4a4a">24</text></g><g transform="translate(226,312) scale(0.18553)"><text x="65" y="128" font-size="13.5" text-anchor="middle" fill="#4a4a4a">CC</text><text x="330" y="95" font-size="13.5" text-anchor="middle" fill="#4a4a4a">46d</text><text x="395" y="190" font-size="13.5" text-anchor="middle" fill="#4a4a4a">46v</text><text x="270" y="190" font-size="13.5" text-anchor="middle" fill="#4a4a4a">ac</text><text x="150" y="200" font-size="13.5" text-anchor="middle" fill="#4a4a4a">Cd</text><text x="90" y="50" font-size="13.5" text-anchor="middle" fill="#4a4a4a">24</text><text x="230" y="60" font-size="13.5" text-anchor="middle" fill="#4a4a4a">8B</text></g><g transform="translate(14,385) scale(0.16697)"><text x="110" y="100" font-size="15.0" text-anchor="middle" fill="#4a4a4a">genu, beginning</text><text x="185" y="190" font-size="15.0" text-anchor="middle" fill="#4a4a4a">13m</text><text x="125" y="215" font-size="15.0" text-anchor="middle" fill="#4a4a4a">14O</text><text x="385" y="110" font-size="15.0" text-anchor="middle" fill="#4a4a4a">12o</text><text x="425" y="165" font-size="15.0" text-anchor="middle" fill="#4a4a4a">12l</text><text x="390" y="205" font-size="15.0" text-anchor="middle" fill="#4a4a4a">13l</text><text x="160" y="240" font-size="15.0" text-anchor="middle" fill="#4a4a4a">Iapm</text><text x="100" y="270" font-size="15.0" text-anchor="middle" fill="#4a4a4a">25</text></g><g transform="translate(96,385) scale(0.16697)"><text x="170" y="170" font-size="15.0" text-anchor="middle" fill="#4a4a4a">13m</text><text x="130" y="218" font-size="15.0" text-anchor="middle" fill="#4a4a4a">14O</text><text x="390" y="100" font-size="15.0" text-anchor="middle" fill="#4a4a4a">12o</text><text x="425" y="160" font-size="15.0" text-anchor="middle" fill="#4a4a4a">12l</text><text x="395" y="190" font-size="15.0" text-anchor="middle" fill="#4a4a4a">13l</text><text x="365" y="235" font-size="15.0" text-anchor="middle" fill="#4a4a4a">Ia dysgr</text><text x="170" y="240" font-size="15.0" text-anchor="middle" fill="#4a4a4a">Iapm</text></g><g transform="translate(176,385) scale(0.16697)"><text x="155" y="140" font-size="15.0" text-anchor="middle" fill="#4a4a4a">13m</text><text x="145" y="225" font-size="15.0" text-anchor="middle" fill="#4a4a4a">14O</text><text x="295" y="108" font-size="15.0" text-anchor="middle" fill="#4a4a4a">13l</text><text x="405" y="85" font-size="15.0" text-anchor="middle" fill="#4a4a4a">12o</text><text x="420" y="130" font-size="15.0" text-anchor="middle" fill="#4a4a4a">12l</text><text x="270" y="235" font-size="15.0" text-anchor="middle" fill="#4a4a4a">Ia dysgr</text></g><g transform="translate(256,385) scale(0.16697)"><text x="170" y="145" font-size="15.0" text-anchor="middle" fill="#4a4a4a">13m</text><text x="140" y="230" font-size="15.0" text-anchor="middle" fill="#4a4a4a">14O</text><text x="280" y="112" font-size="15.0" text-anchor="middle" fill="#4a4a4a">13l</text><text x="405" y="75" font-size="15.0" text-anchor="middle" fill="#4a4a4a">12o</text><text x="420" y="125" font-size="15.0" text-anchor="middle" fill="#4a4a4a">12l</text><text x="300" y="195" font-size="15.0" text-anchor="middle" fill="#4a4a4a">Ia dysgr</text><text x="165" y="265" font-size="15.0" text-anchor="middle" fill="#4a4a4a">10o</text></g><g transform="translate(336,385) scale(0.16697)"><text x="165" y="145" font-size="15.0" text-anchor="middle" fill="#4a4a4a">13m</text><text x="118" y="220" font-size="15.0" text-anchor="middle" fill="#4a4a4a">14O</text><text x="275" y="115" font-size="15.0" text-anchor="middle" fill="#4a4a4a">13l</text><text x="395" y="80" font-size="15.0" text-anchor="middle" fill="#4a4a4a">12o</text><text x="350" y="135" font-size="15.0" text-anchor="middle" fill="#4a4a4a">12l</text><text x="310" y="170" font-size="15.0" text-anchor="middle" fill="#4a4a4a">Ia dysgr</text><text x="145" y="255" font-size="15.0" text-anchor="middle" fill="#4a4a4a">10o</text></g>
<text x="0.8" y="469.6" font-size="12.2" font-weight="bold" fill="#000">d</text>
<text x="14.9" y="479.1" font-size="9.85" stroke="#111" stroke-width="0.22" fill="#111">Search / Saccade Array</text>
<rect x="2.2" y="485.2" width="130.4" height="104.8" fill="none" stroke="#1a1a1a" stroke-width="1.4"/>
<circle cx="53.6" cy="499.6" r="2.45" fill="#1a1a1a"/>
<circle cx="78.8" cy="499.6" r="2.45" fill="#1a1a1a"/>
<circle cx="41.3" cy="512.3" r="2.45" fill="#1a1a1a"/>
<circle cx="66.4" cy="512.3" r="2.45" fill="#1a1a1a"/>
<circle cx="91.5" cy="512.3" r="2.45" fill="#1a1a1a"/>
<circle cx="28.7" cy="525.0" r="2.45" fill="#1a1a1a"/>
<circle cx="53.8" cy="525.0" r="2.45" fill="#1a1a1a"/>
<circle cx="78.8" cy="525.0" r="2.45" fill="#1a1a1a"/>
<circle cx="104.1" cy="525.0" r="2.45" fill="#1a1a1a"/>
<circle cx="41.3" cy="537.6" r="2.45" fill="#1a1a1a"/>
<circle cx="91.5" cy="537.6" r="2.45" fill="#1a1a1a"/>
<circle cx="28.7" cy="550.2" r="2.45" fill="#1a1a1a"/>
<circle cx="53.8" cy="550.2" r="2.45" fill="#1a1a1a"/>
<circle cx="78.8" cy="550.2" r="2.45" fill="#1a1a1a"/>
<circle cx="104.1" cy="550.2" r="2.45" fill="#1a1a1a"/>
<circle cx="41.3" cy="562.6" r="2.45" fill="#1a1a1a"/>
<circle cx="66.4" cy="562.6" r="2.45" fill="#1a1a1a"/>
<circle cx="91.5" cy="562.6" r="2.45" fill="#1a1a1a"/>
<circle cx="53.8" cy="575.0" r="2.45" fill="#1a1a1a"/>
<circle cx="78.8" cy="575.0" r="2.45" fill="#1a1a1a"/>
<line x1="96.4" y1="568.2" x2="110.5" y2="555.2" stroke="#1a1a1a" stroke-width="1.3"/>
<text x='106.3' y='570.6' font-size='10' font-family="'Liberation Serif', serif" fill='#231f20'>5&#176;</text>
<rect x="176.90" y="495.45" width="4.97" height="61.85" fill="#8e8f93" stroke="#505052" stroke-width="0.6"/>
<rect x="181.87" y="530.34" width="4.97" height="26.96" fill="#8e8f93" stroke="#505052" stroke-width="0.6"/>
<rect x="186.84" y="541.44" width="4.97" height="15.86" fill="#8e8f93" stroke="#505052" stroke-width="0.6"/>
<rect x="191.81" y="535.29" width="4.97" height="22.01" fill="#8e8f93" stroke="#505052" stroke-width="0.6"/>
<rect x="196.78" y="547.39" width="4.97" height="9.91" fill="#8e8f93" stroke="#505052" stroke-width="0.6"/>
<rect x="201.75" y="548.58" width="4.97" height="8.72" fill="#8e8f93" stroke="#505052" stroke-width="0.6"/>
<rect x="206.72" y="553.53" width="4.97" height="3.77" fill="#8e8f93" stroke="#505052" stroke-width="0.6"/>
<rect x="211.69" y="556.71" width="4.97" height="0.59" fill="#8e8f93" stroke="#505052" stroke-width="0.6"/>
<rect x="216.66" y="557.10" width="4.97" height="0.20" fill="#8e8f93" stroke="#505052" stroke-width="0.6"/>
<line x1="174.7" y1="477.99999999999994" x2="174.7" y2="557.9" stroke="#1a1a1a" stroke-width="1.2"/>
<line x1="174.1" y1="557.3" x2="273.1" y2="557.3" stroke="#1a1a1a" stroke-width="1.2"/>
<line x1="174.7" y1="557.3" x2="176.5" y2="557.3" stroke="#1a1a1a" stroke-width="1.1"/>
<text x="173.9" y="560.6" font-size="9.3" text-anchor="end" stroke="#111" stroke-width="0.22" fill="#111">0</text>
<line x1="174.7" y1="537.5" x2="176.5" y2="537.5" stroke="#1a1a1a" stroke-width="1.1"/>
<text x="173.9" y="540.8" font-size="9.3" text-anchor="end" stroke="#111" stroke-width="0.22" fill="#111">100</text>
<line x1="174.7" y1="517.6" x2="176.5" y2="517.6" stroke="#1a1a1a" stroke-width="1.1"/>
<text x="173.9" y="520.9" font-size="9.3" text-anchor="end" stroke="#111" stroke-width="0.22" fill="#111">200</text>
<line x1="174.7" y1="497.8" x2="176.5" y2="497.8" stroke="#1a1a1a" stroke-width="1.1"/>
<text x="173.9" y="501.1" font-size="9.3" text-anchor="end" stroke="#111" stroke-width="0.22" fill="#111">300</text>
<line x1="174.7" y1="478.0" x2="176.5" y2="478.0" stroke="#1a1a1a" stroke-width="1.1"/>
<text x="173.9" y="481.3" font-size="9.3" text-anchor="end" stroke="#111" stroke-width="0.22" fill="#111">400</text>
<line x1="174.7" y1="557.3" x2="174.7" y2="555.5" stroke="#1a1a1a" stroke-width="1.1"/>
<text x="174.7" y="566.9" font-size="9.3" text-anchor="middle" stroke="#111" stroke-width="0.22" fill="#111">0</text>
<line x1="199.3" y1="557.3" x2="199.3" y2="555.5" stroke="#1a1a1a" stroke-width="1.1"/>
<text x="199.3" y="566.9" font-size="9.3" text-anchor="middle" stroke="#111" stroke-width="0.22" fill="#111">5</text>
<line x1="223.9" y1="557.3" x2="223.9" y2="555.5" stroke="#1a1a1a" stroke-width="1.1"/>
<text x="223.9" y="566.9" font-size="9.3" text-anchor="middle" stroke="#111" stroke-width="0.22" fill="#111">10</text>
<line x1="248.5" y1="557.3" x2="248.5" y2="555.5" stroke="#1a1a1a" stroke-width="1.1"/>
<text x="248.5" y="566.9" font-size="9.3" text-anchor="middle" stroke="#111" stroke-width="0.22" fill="#111">15</text>
<line x1="273.1" y1="557.3" x2="273.1" y2="555.5" stroke="#1a1a1a" stroke-width="1.1"/>
<text x="273.1" y="566.9" font-size="9.3" text-anchor="middle" stroke="#111" stroke-width="0.22" fill="#111">20</text>
<text x="156.8" y="469.6" font-size="12.2" font-weight="bold" fill="#000">e</text>
<text x="226.0" y="476.1" font-size="9.7" text-anchor="middle" stroke="#111" stroke-width="0.22" fill="#111">V4</text>
<rect x="301.10" y="529.54" width="4.97" height="27.75" fill="#8e8f93" stroke="#505052" stroke-width="0.6"/>
<rect x="306.07" y="493.86" width="4.97" height="63.44" fill="#8e8f93" stroke="#505052" stroke-width="0.6"/>
<rect x="311.04" y="503.77" width="4.97" height="53.53" fill="#8e8f93" stroke="#505052" stroke-width="0.6"/>
<rect x="316.01" y="481.96" width="4.97" height="75.33" fill="#8e8f93" stroke="#505052" stroke-width="0.6"/>
<rect x="320.98" y="495.84" width="4.97" height="61.46" fill="#8e8f93" stroke="#505052" stroke-width="0.6"/>
<rect x="325.95" y="493.86" width="4.97" height="63.44" fill="#8e8f93" stroke="#505052" stroke-width="0.6"/>
<rect x="330.92" y="517.65" width="4.97" height="39.65" fill="#8e8f93" stroke="#505052" stroke-width="0.6"/>
<rect x="335.89" y="511.70" width="4.97" height="45.60" fill="#8e8f93" stroke="#505052" stroke-width="0.6"/>
<rect x="340.86" y="511.70" width="4.97" height="45.60" fill="#8e8f93" stroke="#505052" stroke-width="0.6"/>
<rect x="345.83" y="527.56" width="4.97" height="29.74" fill="#8e8f93" stroke="#505052" stroke-width="0.6"/>
<rect x="350.80" y="545.40" width="4.97" height="11.89" fill="#8e8f93" stroke="#505052" stroke-width="0.6"/>
<rect x="355.77" y="553.33" width="4.97" height="3.96" fill="#8e8f93" stroke="#505052" stroke-width="0.6"/>
<rect x="360.74" y="555.32" width="4.97" height="1.98" fill="#8e8f93" stroke="#505052" stroke-width="0.6"/>
<rect x="365.71" y="555.32" width="4.97" height="1.98" fill="#8e8f93" stroke="#505052" stroke-width="0.6"/>
<rect x="375.65" y="555.32" width="4.97" height="1.98" fill="#8e8f93" stroke="#505052" stroke-width="0.6"/>
<rect x="380.62" y="555.32" width="4.97" height="1.98" fill="#8e8f93" stroke="#505052" stroke-width="0.6"/>
<rect x="385.59" y="555.32" width="4.97" height="1.98" fill="#8e8f93" stroke="#505052" stroke-width="0.6"/>
<line x1="299.4" y1="477.99999999999994" x2="299.4" y2="557.9" stroke="#1a1a1a" stroke-width="1.2"/>
<line x1="298.79999999999995" y1="557.3" x2="397.79999999999995" y2="557.3" stroke="#1a1a1a" stroke-width="1.2"/>
<line x1="299.4" y1="557.3" x2="301.2" y2="557.3" stroke="#1a1a1a" stroke-width="1.1"/>
<text x="298.6" y="560.6" font-size="9.3" text-anchor="end" stroke="#111" stroke-width="0.22" fill="#111">0</text>
<line x1="299.4" y1="537.5" x2="301.2" y2="537.5" stroke="#1a1a1a" stroke-width="1.1"/>
<text x="298.6" y="540.8" font-size="9.3" text-anchor="end" stroke="#111" stroke-width="0.22" fill="#111">10</text>
<line x1="299.4" y1="517.6" x2="301.2" y2="517.6" stroke="#1a1a1a" stroke-width="1.1"/>
<text x="298.6" y="520.9" font-size="9.3" text-anchor="end" stroke="#111" stroke-width="0.22" fill="#111">20</text>
<line x1="299.4" y1="497.8" x2="301.2" y2="497.8" stroke="#1a1a1a" stroke-width="1.1"/>
<text x="298.6" y="501.1" font-size="9.3" text-anchor="end" stroke="#111" stroke-width="0.22" fill="#111">30</text>
<line x1="299.4" y1="478.0" x2="301.2" y2="478.0" stroke="#1a1a1a" stroke-width="1.1"/>
<text x="298.6" y="481.3" font-size="9.3" text-anchor="end" stroke="#111" stroke-width="0.22" fill="#111">40</text>
<line x1="299.4" y1="557.3" x2="299.4" y2="555.5" stroke="#1a1a1a" stroke-width="1.1"/>
<text x="299.4" y="566.9" font-size="9.3" text-anchor="middle" stroke="#111" stroke-width="0.22" fill="#111">0</text>
<line x1="324.0" y1="557.3" x2="324.0" y2="555.5" stroke="#1a1a1a" stroke-width="1.1"/>
<text x="324.0" y="566.9" font-size="9.3" text-anchor="middle" stroke="#111" stroke-width="0.22" fill="#111">5</text>
<line x1="348.6" y1="557.3" x2="348.6" y2="555.5" stroke="#1a1a1a" stroke-width="1.1"/>
<text x="348.6" y="566.9" font-size="9.3" text-anchor="middle" stroke="#111" stroke-width="0.22" fill="#111">10</text>
<line x1="373.2" y1="557.3" x2="373.2" y2="555.5" stroke="#1a1a1a" stroke-width="1.1"/>
<text x="373.2" y="566.9" font-size="9.3" text-anchor="middle" stroke="#111" stroke-width="0.22" fill="#111">15</text>
<line x1="397.8" y1="557.3" x2="397.8" y2="555.5" stroke="#1a1a1a" stroke-width="1.1"/>
<text x="397.8" y="566.9" font-size="9.3" text-anchor="middle" stroke="#111" stroke-width="0.22" fill="#111">20</text>
<text x="285.7" y="469.6" font-size="12.2" font-weight="bold" fill="#000">f</text>
<text x="349.6" y="476.1" font-size="9.7" text-anchor="middle" stroke="#111" stroke-width="0.22" fill="#111">IT</text>
<rect x="425.40" y="544.41" width="4.97" height="12.89" fill="#8e8f93" stroke="#505052" stroke-width="0.6"/>
<rect x="430.37" y="540.45" width="4.97" height="16.85" fill="#8e8f93" stroke="#505052" stroke-width="0.6"/>
<rect x="435.34" y="528.55" width="4.97" height="28.75" fill="#8e8f93" stroke="#505052" stroke-width="0.6"/>
<rect x="440.31" y="515.67" width="4.97" height="41.63" fill="#8e8f93" stroke="#505052" stroke-width="0.6"/>
<rect x="445.28" y="497.82" width="4.97" height="59.47" fill="#8e8f93" stroke="#505052" stroke-width="0.6"/>
<rect x="450.25" y="504.76" width="4.97" height="52.54" fill="#8e8f93" stroke="#505052" stroke-width="0.6"/>
<rect x="455.22" y="488.90" width="4.97" height="68.40" fill="#8e8f93" stroke="#505052" stroke-width="0.6"/>
<rect x="460.19" y="488.90" width="4.97" height="68.40" fill="#8e8f93" stroke="#505052" stroke-width="0.6"/>
<rect x="465.16" y="507.74" width="4.97" height="49.56" fill="#8e8f93" stroke="#505052" stroke-width="0.6"/>
<rect x="470.13" y="512.69" width="4.97" height="44.61" fill="#8e8f93" stroke="#505052" stroke-width="0.6"/>
<rect x="475.10" y="527.56" width="4.97" height="29.74" fill="#8e8f93" stroke="#505052" stroke-width="0.6"/>
<rect x="480.07" y="535.49" width="4.97" height="21.81" fill="#8e8f93" stroke="#505052" stroke-width="0.6"/>
<rect x="485.04" y="550.36" width="4.97" height="6.94" fill="#8e8f93" stroke="#505052" stroke-width="0.6"/>
<rect x="490.01" y="552.34" width="4.97" height="4.96" fill="#8e8f93" stroke="#505052" stroke-width="0.6"/>
<rect x="494.98" y="555.32" width="4.97" height="1.98" fill="#8e8f93" stroke="#505052" stroke-width="0.6"/>
<rect x="499.95" y="556.90" width="4.97" height="0.40" fill="#8e8f93" stroke="#505052" stroke-width="0.6"/>
<rect x="504.92" y="556.31" width="4.97" height="0.99" fill="#8e8f93" stroke="#505052" stroke-width="0.6"/>
<rect x="509.89" y="556.71" width="4.97" height="0.59" fill="#8e8f93" stroke="#505052" stroke-width="0.6"/>
<line x1="424.0" y1="477.99999999999994" x2="424.0" y2="557.9" stroke="#1a1a1a" stroke-width="1.2"/>
<line x1="423.4" y1="557.3" x2="522.4" y2="557.3" stroke="#1a1a1a" stroke-width="1.2"/>
<line x1="424.0" y1="557.3" x2="425.8" y2="557.3" stroke="#1a1a1a" stroke-width="1.1"/>
<text x="423.2" y="560.6" font-size="9.3" text-anchor="end" stroke="#111" stroke-width="0.22" fill="#111">0</text>
<line x1="424.0" y1="537.5" x2="425.8" y2="537.5" stroke="#1a1a1a" stroke-width="1.1"/>
<text x="423.2" y="540.8" font-size="9.3" text-anchor="end" stroke="#111" stroke-width="0.22" fill="#111">20</text>
<line x1="424.0" y1="517.6" x2="425.8" y2="517.6" stroke="#1a1a1a" stroke-width="1.1"/>
<text x="423.2" y="520.9" font-size="9.3" text-anchor="end" stroke="#111" stroke-width="0.22" fill="#111">40</text>
<line x1="424.0" y1="497.8" x2="425.8" y2="497.8" stroke="#1a1a1a" stroke-width="1.1"/>
<text x="423.2" y="501.1" font-size="9.3" text-anchor="end" stroke="#111" stroke-width="0.22" fill="#111">60</text>
<line x1="424.0" y1="478.0" x2="425.8" y2="478.0" stroke="#1a1a1a" stroke-width="1.1"/>
<text x="423.2" y="481.3" font-size="9.3" text-anchor="end" stroke="#111" stroke-width="0.22" fill="#111">80</text>
<line x1="424.0" y1="557.3" x2="424.0" y2="555.5" stroke="#1a1a1a" stroke-width="1.1"/>
<text x="424.0" y="566.9" font-size="9.3" text-anchor="middle" stroke="#111" stroke-width="0.22" fill="#111">0</text>
<line x1="448.6" y1="557.3" x2="448.6" y2="555.5" stroke="#1a1a1a" stroke-width="1.1"/>
<text x="448.6" y="566.9" font-size="9.3" text-anchor="middle" stroke="#111" stroke-width="0.22" fill="#111">5</text>
<line x1="473.2" y1="557.3" x2="473.2" y2="555.5" stroke="#1a1a1a" stroke-width="1.1"/>
<text x="473.2" y="566.9" font-size="9.3" text-anchor="middle" stroke="#111" stroke-width="0.22" fill="#111">10</text>
<line x1="497.8" y1="557.3" x2="497.8" y2="555.5" stroke="#1a1a1a" stroke-width="1.1"/>
<text x="497.8" y="566.9" font-size="9.3" text-anchor="middle" stroke="#111" stroke-width="0.22" fill="#111">15</text>
<line x1="522.4" y1="557.3" x2="522.4" y2="555.5" stroke="#1a1a1a" stroke-width="1.1"/>
<text x="522.4" y="566.9" font-size="9.3" text-anchor="middle" stroke="#111" stroke-width="0.22" fill="#111">20</text>
<text x="410.3" y="469.6" font-size="12.2" font-weight="bold" fill="#000">g</text>
<text x="476.5" y="476.1" font-size="9.7" text-anchor="middle" stroke="#111" stroke-width="0.22" fill="#111">LPFC</text>
<text transform="translate(150.6,517.2) rotate(-90)" font-size="9.7" text-anchor="middle" fill="#111" stroke="#111" stroke-width="0.22">Number of Units</text>
<text x="345.2" y="581.0" font-size="9.82" text-anchor="middle" stroke="#111" stroke-width="0.22" fill="#111">Number of Stimuli that Activated Peripheral Receptive Field (RF)</text>
<rect x="186.97" y="604.37" width="9.97" height="9.97" fill="#33399a"/>
<rect x="177.00" y="614.34" width="9.97" height="9.97" fill="#3b6bbf"/>
<rect x="196.94" y="614.34" width="9.97" height="9.97" fill="#3b6bbf"/>
<rect x="186.97" y="624.31" width="9.97" height="9.97" fill="#6cbf8a"/>
<rect x="177.00" y="634.28" width="9.97" height="9.97" fill="#22a9c2"/>
<rect x="196.94" y="634.28" width="9.97" height="9.97" fill="#f3e52a"/>
<rect x="186.97" y="644.25" width="9.97" height="9.97" fill="#1c9dd8"/>
<rect x="206.91" y="644.25" width="9.97" height="9.97" fill="#343d9b"/>
<rect x="196.94" y="654.22" width="9.97" height="9.97" fill="#3546a2"/>
<line x1="177.00" y1="594.4" x2="177.00" y2="664.19" stroke="#7d7d7d" stroke-width="0.75"/>
<line x1="177.0" y1="594.40" x2="246.79" y2="594.40" stroke="#7d7d7d" stroke-width="0.75"/>
<line x1="186.97" y1="594.4" x2="186.97" y2="664.19" stroke="#7d7d7d" stroke-width="0.75"/>
<line x1="177.0" y1="604.37" x2="246.79" y2="604.37" stroke="#7d7d7d" stroke-width="0.75"/>
<line x1="196.94" y1="594.4" x2="196.94" y2="664.19" stroke="#7d7d7d" stroke-width="0.75"/>
<line x1="177.0" y1="614.34" x2="246.79" y2="614.34" stroke="#7d7d7d" stroke-width="0.75"/>
<line x1="206.91" y1="594.4" x2="206.91" y2="664.19" stroke="#7d7d7d" stroke-width="0.75"/>
<line x1="177.0" y1="624.31" x2="246.79" y2="624.31" stroke="#7d7d7d" stroke-width="0.75"/>
<line x1="216.88" y1="594.4" x2="216.88" y2="664.19" stroke="#7d7d7d" stroke-width="0.75"/>
<line x1="177.0" y1="634.28" x2="246.79" y2="634.28" stroke="#7d7d7d" stroke-width="0.75"/>
<line x1="226.85" y1="594.4" x2="226.85" y2="664.19" stroke="#7d7d7d" stroke-width="0.75"/>
<line x1="177.0" y1="644.25" x2="246.79" y2="644.25" stroke="#7d7d7d" stroke-width="0.75"/>
<line x1="236.82" y1="594.4" x2="236.82" y2="664.19" stroke="#7d7d7d" stroke-width="0.75"/>
<line x1="177.0" y1="654.22" x2="246.79" y2="654.22" stroke="#7d7d7d" stroke-width="0.75"/>
<line x1="246.79" y1="594.4" x2="246.79" y2="664.19" stroke="#7d7d7d" stroke-width="0.75"/>
<line x1="177.0" y1="664.19" x2="246.79" y2="664.19" stroke="#7d7d7d" stroke-width="0.75"/>
<defs><linearGradient id="cb249" x1="0" y1="0" x2="0" y2="1"><stop offset="0.000" stop-color="#f7e126"/><stop offset="0.083" stop-color="#f8c73a"/><stop offset="0.167" stop-color="#eab547"/><stop offset="0.250" stop-color="#c2bd5a"/><stop offset="0.333" stop-color="#90c071"/><stop offset="0.417" stop-color="#5cbb8b"/><stop offset="0.500" stop-color="#29b3a6"/><stop offset="0.583" stop-color="#19acc4"/><stop offset="0.667" stop-color="#1a9bd6"/><stop offset="0.750" stop-color="#2b80d4"/><stop offset="0.833" stop-color="#3864c2"/><stop offset="0.917" stop-color="#3747a6"/><stop offset="1.000" stop-color="#352f8c"/></linearGradient></defs>
<rect x="249.6" y="594.4" width="6.6" height="69.78999999999996" fill="url(#cb249)" stroke="#8a8a8a" stroke-width="0.6"/>
<text x="258.7" y="612.3" font-size="9.9" stroke="#111" stroke-width="0.22" fill="#111">600</text>
<text x="258.7" y="630.5" font-size="9.9" stroke="#111" stroke-width="0.22" fill="#111">400</text>
<text x="258.7" y="648.8" font-size="9.9" stroke="#111" stroke-width="0.22" fill="#111">200</text>
<text x="258.7" y="667.7" font-size="9.9" stroke="#111" stroke-width="0.22" fill="#111">0</text>
<text x="158.3" y="601.0" font-size="12.2" font-weight="bold" fill="#000">h</text>
<text x="166.6" y="677.4" font-size="9.8" stroke="#111" stroke-width="0.22" fill="#111">Contralateral</text>
<line x1="162.0" y1="680.9" x2="224.4" y2="680.9" stroke="#1a1a1a" stroke-width="1.6"/>
<path d="M158.6,680.9 L165.4,677.6 L164.0,680.9 L165.4,684.2 Z" fill="#1a1a1a"/>
<rect x="323.44" y="594.40" width="9.97" height="9.97" fill="#5dbb8a"/>
<rect x="343.38" y="594.40" width="9.97" height="9.97" fill="#3a6cc0"/>
<rect x="313.47" y="604.37" width="9.97" height="9.97" fill="#f4b847"/>
<rect x="333.41" y="604.37" width="9.97" height="9.97" fill="#21aaa8"/>
<rect x="353.35" y="604.37" width="9.97" height="9.97" fill="#3a4aa5"/>
<rect x="303.50" y="614.34" width="9.97" height="9.97" fill="#f9cd30"/>
<rect x="323.44" y="614.34" width="9.97" height="9.97" fill="#f8d030"/>
<rect x="343.38" y="614.34" width="9.97" height="9.97" fill="#3a58b0"/>
<rect x="363.32" y="614.34" width="9.97" height="9.97" fill="#2e3390"/>
<rect x="313.47" y="624.31" width="9.97" height="9.97" fill="#f5e62a"/>
<rect x="353.35" y="624.31" width="9.97" height="9.97" fill="#3038a0"/>
<rect x="303.50" y="634.28" width="9.97" height="9.97" fill="#eeb14d"/>
<rect x="323.44" y="634.28" width="9.97" height="9.97" fill="#f5b445"/>
<rect x="343.38" y="634.28" width="9.97" height="9.97" fill="#3a6cc0"/>
<rect x="363.32" y="634.28" width="9.97" height="9.97" fill="#3848a5"/>
<rect x="313.47" y="644.25" width="9.97" height="9.97" fill="#dcc060"/>
<rect x="333.41" y="644.25" width="9.97" height="9.97" fill="#1aa8c8"/>
<rect x="353.35" y="644.25" width="9.97" height="9.97" fill="#3a70c0"/>
<rect x="323.44" y="654.22" width="9.97" height="9.97" fill="#5dbb8a"/>
<rect x="343.38" y="654.22" width="9.97" height="9.97" fill="#2a8ad5"/>
<line x1="303.50" y1="594.4" x2="303.50" y2="664.19" stroke="#7d7d7d" stroke-width="0.75"/>
<line x1="303.5" y1="594.40" x2="373.29" y2="594.40" stroke="#7d7d7d" stroke-width="0.75"/>
<line x1="313.47" y1="594.4" x2="313.47" y2="664.19" stroke="#7d7d7d" stroke-width="0.75"/>
<line x1="303.5" y1="604.37" x2="373.29" y2="604.37" stroke="#7d7d7d" stroke-width="0.75"/>
<line x1="323.44" y1="594.4" x2="323.44" y2="664.19" stroke="#7d7d7d" stroke-width="0.75"/>
<line x1="303.5" y1="614.34" x2="373.29" y2="614.34" stroke="#7d7d7d" stroke-width="0.75"/>
<line x1="333.41" y1="594.4" x2="333.41" y2="664.19" stroke="#7d7d7d" stroke-width="0.75"/>
<line x1="303.5" y1="624.31" x2="373.29" y2="624.31" stroke="#7d7d7d" stroke-width="0.75"/>
<line x1="343.38" y1="594.4" x2="343.38" y2="664.19" stroke="#7d7d7d" stroke-width="0.75"/>
<line x1="303.5" y1="634.28" x2="373.29" y2="634.28" stroke="#7d7d7d" stroke-width="0.75"/>
<line x1="353.35" y1="594.4" x2="353.35" y2="664.19" stroke="#7d7d7d" stroke-width="0.75"/>
<line x1="303.5" y1="644.25" x2="373.29" y2="644.25" stroke="#7d7d7d" stroke-width="0.75"/>
<line x1="363.32" y1="594.4" x2="363.32" y2="664.19" stroke="#7d7d7d" stroke-width="0.75"/>
<line x1="303.5" y1="654.22" x2="373.29" y2="654.22" stroke="#7d7d7d" stroke-width="0.75"/>
<line x1="373.29" y1="594.4" x2="373.29" y2="664.19" stroke="#7d7d7d" stroke-width="0.75"/>
<line x1="303.5" y1="664.19" x2="373.29" y2="664.19" stroke="#7d7d7d" stroke-width="0.75"/>
<defs><linearGradient id="cb376" x1="0" y1="0" x2="0" y2="1"><stop offset="0.000" stop-color="#f7e126"/><stop offset="0.083" stop-color="#f8c73a"/><stop offset="0.167" stop-color="#eab547"/><stop offset="0.250" stop-color="#c2bd5a"/><stop offset="0.333" stop-color="#90c071"/><stop offset="0.417" stop-color="#5cbb8b"/><stop offset="0.500" stop-color="#29b3a6"/><stop offset="0.583" stop-color="#19acc4"/><stop offset="0.667" stop-color="#1a9bd6"/><stop offset="0.750" stop-color="#2b80d4"/><stop offset="0.833" stop-color="#3864c2"/><stop offset="0.917" stop-color="#3747a6"/><stop offset="1.000" stop-color="#352f8c"/></linearGradient></defs>
<rect x="376.6" y="594.4" width="6.6" height="69.78999999999996" fill="url(#cb376)" stroke="#8a8a8a" stroke-width="0.6"/>
<text x="385.7" y="604.8" font-size="9.9" stroke="#111" stroke-width="0.22" fill="#111">150</text>
<text x="385.7" y="625.7" font-size="9.9" stroke="#111" stroke-width="0.22" fill="#111">100</text>
<text x="385.7" y="646.5" font-size="9.9" stroke="#111" stroke-width="0.22" fill="#111">50</text>
<text x="385.7" y="667.3" font-size="9.9" stroke="#111" stroke-width="0.22" fill="#111">0</text>
<text x="285.9" y="601.0" font-size="12.2" font-weight="bold" fill="#000">i</text>
<text x="293.1" y="677.4" font-size="9.8" stroke="#111" stroke-width="0.22" fill="#111">Contralateral</text>
<line x1="288.5" y1="680.9" x2="350.9" y2="680.9" stroke="#1a1a1a" stroke-width="1.6"/>
<path d="M285.1,680.9 L291.9,677.6 L290.5,680.9 L291.9,684.2 Z" fill="#1a1a1a"/>
<rect x="448.24" y="594.40" width="9.97" height="9.97" fill="#86c07c"/>
<rect x="468.18" y="594.40" width="9.97" height="9.97" fill="#2a82d0"/>
<rect x="438.27" y="604.37" width="9.97" height="9.97" fill="#eeb24a"/>
<rect x="458.21" y="604.37" width="9.97" height="9.97" fill="#27b0a0"/>
<rect x="478.15" y="604.37" width="9.97" height="9.97" fill="#3a60b8"/>
<rect x="428.30" y="614.34" width="9.97" height="9.97" fill="#f5dc2a"/>
<rect x="448.24" y="614.34" width="9.97" height="9.97" fill="#ecb24e"/>
<rect x="468.18" y="614.34" width="9.97" height="9.97" fill="#3a5ab0"/>
<rect x="488.12" y="614.34" width="9.97" height="9.97" fill="#3548a5"/>
<rect x="438.27" y="624.31" width="9.97" height="9.97" fill="#f4e62a"/>
<rect x="478.15" y="624.31" width="9.97" height="9.97" fill="#303aa0"/>
<rect x="428.30" y="634.28" width="9.97" height="9.97" fill="#f8bb3a"/>
<rect x="448.24" y="634.28" width="9.97" height="9.97" fill="#95c070"/>
<rect x="468.18" y="634.28" width="9.97" height="9.97" fill="#3a64b8"/>
<rect x="488.12" y="634.28" width="9.97" height="9.97" fill="#3440a0"/>
<rect x="438.27" y="644.25" width="9.97" height="9.97" fill="#b9bc68"/>
<rect x="458.21" y="644.25" width="9.97" height="9.97" fill="#20aec0"/>
<rect x="478.15" y="644.25" width="9.97" height="9.97" fill="#3a64b8"/>
<rect x="448.24" y="654.22" width="9.97" height="9.97" fill="#5bbc8c"/>
<rect x="468.18" y="654.22" width="9.97" height="9.97" fill="#1a9ad6"/>
<line x1="428.30" y1="594.4" x2="428.30" y2="664.19" stroke="#7d7d7d" stroke-width="0.75"/>
<line x1="428.3" y1="594.40" x2="498.09" y2="594.40" stroke="#7d7d7d" stroke-width="0.75"/>
<line x1="438.27" y1="594.4" x2="438.27" y2="664.19" stroke="#7d7d7d" stroke-width="0.75"/>
<line x1="428.3" y1="604.37" x2="498.09" y2="604.37" stroke="#7d7d7d" stroke-width="0.75"/>
<line x1="448.24" y1="594.4" x2="448.24" y2="664.19" stroke="#7d7d7d" stroke-width="0.75"/>
<line x1="428.3" y1="614.34" x2="498.09" y2="614.34" stroke="#7d7d7d" stroke-width="0.75"/>
<line x1="458.21" y1="594.4" x2="458.21" y2="664.19" stroke="#7d7d7d" stroke-width="0.75"/>
<line x1="428.3" y1="624.31" x2="498.09" y2="624.31" stroke="#7d7d7d" stroke-width="0.75"/>
<line x1="468.18" y1="594.4" x2="468.18" y2="664.19" stroke="#7d7d7d" stroke-width="0.75"/>
<line x1="428.3" y1="634.28" x2="498.09" y2="634.28" stroke="#7d7d7d" stroke-width="0.75"/>
<line x1="478.15" y1="594.4" x2="478.15" y2="664.19" stroke="#7d7d7d" stroke-width="0.75"/>
<line x1="428.3" y1="644.25" x2="498.09" y2="644.25" stroke="#7d7d7d" stroke-width="0.75"/>
<line x1="488.12" y1="594.4" x2="488.12" y2="664.19" stroke="#7d7d7d" stroke-width="0.75"/>
<line x1="428.3" y1="654.22" x2="498.09" y2="654.22" stroke="#7d7d7d" stroke-width="0.75"/>
<line x1="498.09" y1="594.4" x2="498.09" y2="664.19" stroke="#7d7d7d" stroke-width="0.75"/>
<line x1="428.3" y1="664.19" x2="498.09" y2="664.19" stroke="#7d7d7d" stroke-width="0.75"/>
<defs><linearGradient id="cb501" x1="0" y1="0" x2="0" y2="1"><stop offset="0.000" stop-color="#f7e126"/><stop offset="0.083" stop-color="#f8c73a"/><stop offset="0.167" stop-color="#eab547"/><stop offset="0.250" stop-color="#c2bd5a"/><stop offset="0.333" stop-color="#90c071"/><stop offset="0.417" stop-color="#5cbb8b"/><stop offset="0.500" stop-color="#29b3a6"/><stop offset="0.583" stop-color="#19acc4"/><stop offset="0.667" stop-color="#1a9bd6"/><stop offset="0.750" stop-color="#2b80d4"/><stop offset="0.833" stop-color="#3864c2"/><stop offset="0.917" stop-color="#3747a6"/><stop offset="1.000" stop-color="#352f8c"/></linearGradient></defs>
<rect x="501.4" y="594.4" width="6.6" height="69.78999999999996" fill="url(#cb501)" stroke="#8a8a8a" stroke-width="0.6"/>
<text x="510.5" y="598.7" font-size="9.9" stroke="#111" stroke-width="0.22" fill="#111">400</text>
<text x="510.5" y="615.8" font-size="9.9" stroke="#111" stroke-width="0.22" fill="#111">300</text>
<text x="510.5" y="633.0" font-size="9.9" stroke="#111" stroke-width="0.22" fill="#111">200</text>
<text x="510.5" y="650.2" font-size="9.9" stroke="#111" stroke-width="0.22" fill="#111">100</text>
<text x="510.5" y="667.4" font-size="9.9" stroke="#111" stroke-width="0.22" fill="#111">0</text>
<text x="410.9" y="601.0" font-size="12.2" font-weight="bold" fill="#000">j</text>
<text x="417.9" y="677.4" font-size="9.8" stroke="#111" stroke-width="0.22" fill="#111">Contralateral</text>
<line x1="413.3" y1="680.9" x2="475.7" y2="680.9" stroke="#1a1a1a" stroke-width="1.6"/>
<path d="M409.90000000000003,680.9 L416.7,677.6 L415.3,680.9 L416.7,684.2 Z" fill="#1a1a1a"/>
<text transform="translate(538.5,631.0) rotate(-90)" font-size="9.8" text-anchor="middle" fill="#111" stroke="#111" stroke-width="0.22">Number of Units</text>
</svg>
</body></html>
